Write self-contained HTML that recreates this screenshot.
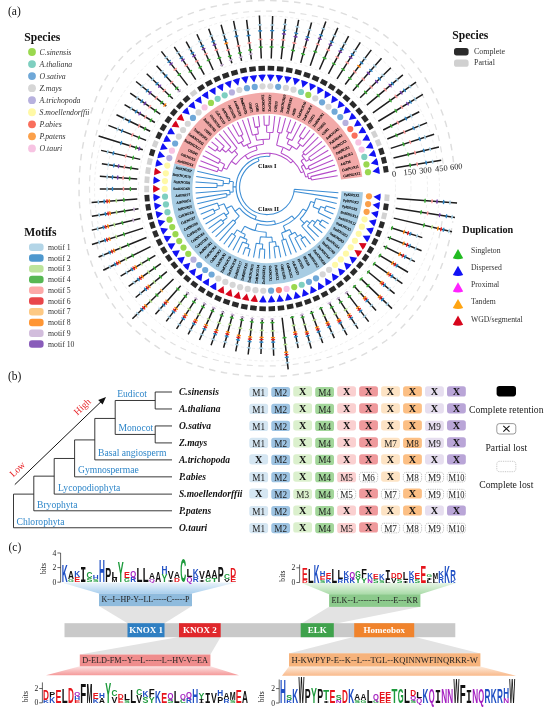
<!DOCTYPE html>
<html lang="en"><head><meta charset="utf-8"><title>KNOX gene family figure</title>
<style>html,body{margin:0;padding:0;background:#fff}svg{display:block}</style></head>
<body>
<svg width="550" height="713" viewBox="0 0 550 713">
<rect width="550" height="713" fill="#fff"/>
<g id="ring">
<circle cx="267" cy="188.5" r="128.5" fill="none" stroke="#e8e8e8" stroke-width="0.7" stroke-dasharray="3 2.5"/>
<circle cx="267" cy="188.5" r="144" fill="none" stroke="#e8e8e8" stroke-width="0.7" stroke-dasharray="3 2.5"/>
<circle cx="267" cy="188.5" r="160.5" fill="none" stroke="#e8e8e8" stroke-width="0.7" stroke-dasharray="3 2.5"/>
<circle cx="267" cy="188.5" r="172.5" fill="none" stroke="#e8e8e8" stroke-width="0.7" stroke-dasharray="3 2.5"/>
<path d="M443.15 163.74L441.93 154.5L440.3 145.29L438.24 136.15L435.74 127.08L432.77 118.13L429.33 109.33L425.39 100.7L420.95 92.3L416.02 84.16L410.58 76.32L404.66 68.83L398.28 61.73L391.45 55.05L384.21 48.81L376.6 43.05L368.66 37.78L360.43 33.01L351.94 28.74L343.25 24.97L334.4 21.69L325.41 18.88L316.31 16.53L307.14 14.61L297.92 13.12L288.67 12.03L279.39 11.34L270.1 11.02L260.8 11.08L251.52 11.53L242.24 12.35L233 13.57L223.79 15.2L214.65 17.26L205.58 19.76L196.63 22.73L187.83 26.17L179.2 30.11L170.77 34.51L162.49 39.24L154.39 44.37L146.54 49.93L139.04 55.99L131.97 62.59L125.46 69.73L119.56 77.39L114.33 85.52L109.78 94.03L105.87 102.83L102.53 111.81L99.68 120.9L97.2 130.03L95.01 139.18L93.11 148.36L91.62 157.58L90.53 166.83L89.84 176.11L89.52 185.4L89.58 194.7L90.03 203.98L90.85 213.26L92.07 222.5L93.7 231.71L95.76 240.85L98.26 249.92L101.23 258.87L104.67 267.67L108.61 276.3L113.05 284.7L117.98 292.84L123.42 300.68L129.34 308.17L135.72 315.27L142.55 321.95L149.79 328.19L157.4 333.95L165.34 339.22L173.57 343.99L182.06 348.26L190.75 352.03L199.6 355.31L208.59 358.12L217.69 360.47L226.86 362.39L236.08 363.88L245.33 364.97L254.61 365.66L263.9 365.98L273.2 365.92L282.48 365.47L291.76 364.65L301 363.43L310.21 361.8L319.35 359.74L328.42 357.24L337.37 354.27L346.17 350.83L354.8 346.89L363.2 342.45L371.34 337.52L379.18 332.08L386.67 326.16L393.77 319.78L400.45 312.95L406.69 305.71L412.45 298.1L417.72 290.16L422.49 281.93L426.76 273.44L430.53 264.75L433.81 255.9L436.62 246.91L438.97 237.81L440.89 228.64L442.38 219.42" fill="none" stroke="#e0e0e0" stroke-width="1.2" stroke-dasharray="6 5.5"/>
<path d="M453.58 162.28L452.3 152.48L450.59 142.73L448.43 133.03L445.8 123.42L442.67 113.93L439.04 104.59L434.89 95.44L430.2 86.52L424.98 77.88L419.23 69.57L412.96 61.62L406.19 54.09L398.95 47L391.27 40.4L383.2 34.3L374.77 28.72L366.04 23.68L357.04 19.17L347.82 15.19L338.42 11.73L328.89 8.77L319.25 6.3L309.53 4.29L299.76 2.72L289.95 1.58L280.12 0.85L270.28 0.52L260.44 0.59L250.6 1.05L240.78 1.92L230.98 3.2L221.23 4.91L211.53 7.07L201.92 9.7L192.43 12.83L183.09 16.46L173.94 20.61L165 25.26L156.21 30.28L147.64 35.72L139.33 41.63L131.39 48.08L123.93 55.09L117.04 62.67L110.8 70.8L105.27 79.41L100.45 88.42L96.3 97.74L92.75 107.25L89.72 116.87L87.09 126.55L84.79 136.25L82.79 145.97L81.22 155.74L80.08 165.55L79.35 175.38L79.02 185.22L79.09 195.06L79.55 204.9L80.42 214.72L81.7 224.52L83.41 234.27L85.57 243.97L88.2 253.58L91.33 263.07L94.96 272.41L99.11 281.56L103.8 290.48L109.02 299.12L114.77 307.43L121.04 315.38L127.81 322.91L135.05 330L142.73 336.6L150.8 342.7L159.23 348.28L167.96 353.32L176.96 357.83L186.18 361.81L195.58 365.27L205.11 368.23L214.75 370.7L224.47 372.71L234.24 374.28L244.05 375.42L253.88 376.15L263.72 376.48L273.56 376.41L283.4 375.95L293.22 375.08L303.02 373.8L312.77 372.09L322.47 369.93L332.08 367.3L341.57 364.17L350.91 360.54L360.06 356.39L368.98 351.7L377.62 346.48L385.93 340.73L393.88 334.46L401.41 327.69L408.5 320.45L415.1 312.77L421.2 304.7L426.78 296.27L431.82 287.54L436.33 278.54L440.31 269.32L443.77 259.92L446.73 250.39L449.2 240.75L451.21 231.03L452.78 221.26" fill="none" stroke="#dedede" stroke-width="1.45" stroke-dasharray="6.5 5.5"/>
<path d="M362.28 176.79A96 96 0 0 0 174.33 163.43L194.99 169.02A74.6 74.6 0 0 1 341.04 179.4Z" fill="#f2a9a8"/>
<path d="M174.33 163.43A96 96 0 1 0 362.93 192.19L341.54 191.36A74.6 74.6 0 1 1 194.99 169.02Z" fill="#a7cce3"/>
<path d="M311.42 180.01A45 45 0 0 0 310.74 176.63M311.42 180.01L337.68 175.75M310.74 176.63L336.6 170.38M308.66 178.81A42.5 42.5 0 0 0 307.43 174.09M308.66 178.81L311.11 178.31M307.43 174.09L335.11 165.11M309.54 169.7A46 46 0 0 0 308.08 166.5M309.54 169.7L333.22 159.97M308.08 166.5L330.94 154.98M310.66 160.84A51 51 0 0 0 308.52 157.58M310.66 160.84L328.29 150.19M308.52 157.58L325.28 145.61M305.36 155.13A50 50 0 0 0 302.8 152.29M305.36 155.13L321.93 141.28M302.8 152.29L318.26 137.21M306.28 161.38A47 47 0 0 0 301.88 155.7M306.28 161.38L309.62 159.19M301.88 155.7L304.11 153.69M306.11 169.34A43 43 0 0 0 301.02 160.9M306.11 169.34L308.84 168.09M301.02 160.9L304.19 158.46M305.69 177.06A40 40 0 0 0 301.24 166.52M305.69 177.06L308.11 176.43M301.24 166.52L303.81 164.97M303.07 139.25A60 60 0 0 0 299.3 136.63M303.07 139.25L310.04 129.98M299.3 136.63L305.54 126.86M302.67 146.65A54 54 0 0 0 297.79 142.84M302.67 146.65L314.29 133.44M297.79 142.84L301.21 137.91M290.81 133.22A59 59 0 0 0 286.61 131.55M290.81 133.22L295.89 121.69M286.61 131.55L290.8 119.67M292.03 140.48A53 53 0 0 0 286.51 137.92M292.03 140.48L300.81 124.09M286.51 137.92L288.72 132.34M296.58 149.4A48 48 0 0 0 287.2 143.66M296.58 149.4L300.28 144.67M287.2 143.66L289.31 139.12M281.52 133.11A56 56 0 0 0 277.34 132.16M281.52 133.11L285.56 118.05M277.34 132.16L280.22 116.83M289.45 150.52A43 43 0 0 0 276.55 145.27M289.45 150.52L292.06 146.26M276.55 145.27L279.44 132.6M301.08 172.8A37 37 0 0 0 280.95 152.93M301.08 172.8L303.85 171.63M280.95 152.93L283.21 147.37M269.03 125.23A62 62 0 0 0 264.28 125.26M269.03 125.23L269.34 115.64M264.28 125.26L263.86 115.67M272.99 132.53A55 55 0 0 0 266.69 132.2M272.99 132.53L274.8 116.03M266.69 132.2L266.65 125.2M259.67 126.64A61 61 0 0 0 255.07 127.38M259.67 126.64L258.4 116.12M255.07 127.38L252.99 116.98M258.47 133.88A54 54 0 0 0 252.42 135.21M258.47 133.88L257.36 126.97M252.42 135.21L247.66 118.26M269.49 139.26A48 48 0 0 0 256.71 140.32M269.49 139.26L269.85 132.27M256.71 140.32L255.42 134.46M243.01 134.4A58 58 0 0 0 239.04 136.39M243.01 134.4L237.38 122.01M239.04 136.39L232.48 124.47M243.69 140.72A52 52 0 0 0 238.52 143.69M243.69 140.72L241 135.35M238.52 143.69L227.79 127.29M250.88 143.05A47 47 0 0 0 243.56 146.46M250.88 143.05L242.45 119.94M243.56 146.46L241.06 142.13M263.47 144.34A43 43 0 0 0 248.84 148.22M263.47 144.34L263.06 139.36M248.84 148.22L247.15 144.6M218.22 147.34A63 63 0 0 0 215.31 151.18M218.22 147.34L211.56 141.9M215.31 151.18L208.25 146.27M224.3 146.48A59 59 0 0 0 219.92 151.64M224.3 146.48L215.18 137.79M219.92 151.64L216.73 149.23M230.88 147.06A54 54 0 0 0 225.85 152.24M230.88 147.06L219.11 133.97M225.85 152.24L222.04 149M237.11 148.37A49 49 0 0 0 231.86 153.05M237.11 148.37L223.32 130.47M231.86 153.05L228.28 149.56M220.46 159.81A54 54 0 0 0 218.51 163.44M220.46 159.81L205.3 150.88M218.51 163.44L202.7 155.7M218.69 167.96A52 52 0 0 0 217.36 171.71M218.69 167.96L200.48 160.71M217.36 171.71L198.65 165.87M224.73 164.45A48 48 0 0 0 221.76 171.16M224.73 164.45L219.45 161.61M221.76 171.16L217.99 169.82M237.73 154.35A44 44 0 0 0 226.77 169.37M237.73 154.35L234.4 150.62M226.77 169.37L223.12 167.75M257.14 149.99A38.5 38.5 0 0 0 235.89 164.52M257.14 149.99L255.98 145.64M235.89 164.52L231.45 161.27M290.88 163A34 34 0 0 0 247.8 159.14M290.88 163L292.99 160.87M247.8 159.14L245.26 155.42M269.76 156.42L270.04 153.34" fill="none" stroke="#b44cc9" stroke-width="1.05"/>
<path d="M217.13 183.56A50 50 0 0 0 217 187.38M217.13 183.56L195.59 181.99M217 187.38L195.4 187.46M223.49 180.65A44 44 0 0 0 223.03 185.68M223.49 180.65L196.2 176.54M223.03 185.68L217.03 185.47M229.97 178.69A38 38 0 0 0 229.16 183.71M229.97 178.69L197.22 171.16M229.16 183.71L223.19 183.16M226.5 193.6A41 41 0 0 0 227.11 196.68M226.5 193.6L196.28 198.38M227.11 196.68L197.34 203.75M229.62 190.2A37.5 37.5 0 0 0 230.21 194.47M229.62 190.2L195.63 192.94M230.21 194.47L226.78 195.14M233.43 181.82A34 34 0 0 0 233.32 191.86M233.43 181.82L229.48 181.19M233.32 191.86L229.85 192.34M213.27 209.05A58 58 0 0 0 215.1 213.1M213.27 209.05L200.68 214.18M215.1 213.1L202.93 219.17M217.48 203.05A52 52 0 0 0 219.62 208.62M217.48 203.05L198.81 209.03M219.62 208.62L214.15 211.09M221.29 219.55A56 56 0 0 0 223.9 222.95M221.29 219.55L208.56 228.56M223.9 222.95L211.89 232.91M224.1 212.88A50 50 0 0 0 227.32 217.63M224.1 212.88L205.57 223.98M227.32 217.63L222.56 221.28M224.07 203.71A46 46 0 0 0 228.95 213.05M224.07 203.71L218.47 205.87M228.95 213.05L225.64 215.3M233.23 219.88A47 47 0 0 0 235.82 222.37M233.23 219.88L215.55 236.99M235.82 222.37L219.5 240.78M231.56 205.74A40 40 0 0 0 239.34 216.1M231.56 205.74L226.24 208.52M239.34 216.1L234.5 221.15M231.96 233.42A58 58 0 0 0 235.59 235.96M231.96 233.42L223.74 244.25M235.59 235.96L228.23 247.39M245.5 247.48A64 64 0 0 0 250.17 248.95M245.5 247.48L242.95 254.64M250.17 248.95L248.17 256.28M242.58 242.01A60 60 0 0 0 249.02 244.44M242.58 242.01L237.86 252.6M249.02 244.44L247.82 248.26M240.36 236.46A56 56 0 0 0 247.18 239.58M240.36 236.46L232.94 250.18M247.18 239.58L245.77 243.32M237.19 229.81A52 52 0 0 0 245.38 234.49M237.19 229.81L233.75 234.72M245.38 234.49L243.72 238.13M260.01 248.8A62 62 0 0 0 264.74 249.16M260.01 248.8L258.92 258.34M264.74 249.16L264.39 258.75M256.26 243.18A57 57 0 0 0 262.74 244.04M256.26 243.18L253.51 257.52M262.74 244.04L262.37 249.03M273.98 246.79A60 60 0 0 0 278.51 246.08M273.98 246.79L275.33 258.31M278.51 246.08L280.74 257.47M269.2 242.16A55 55 0 0 0 275.48 241.54M269.2 242.16L269.87 258.74M275.48 241.54L276.25 246.48M260.41 236.76A50 50 0 0 0 271.86 236.96M260.41 236.76L259.49 243.7M271.86 236.96L272.35 241.94M244.66 226.26A45 45 0 0 0 266.22 232.19M244.66 226.26L241.18 232.34M266.22 232.19L266.13 237.19M281.65 240.21A55 55 0 0 0 285.66 238.94M281.65 240.21L286.07 256.21M285.66 238.94L291.29 254.55M300.76 239.2A62 62 0 0 0 304.63 236.47M300.76 239.2L305.98 247.26M304.63 236.47L310.46 244.1M294.77 238.12A58 58 0 0 0 300.42 234.61M294.77 238.12L301.28 250.06M300.42 234.61L302.72 237.88M288.74 235.54A53 53 0 0 0 295 232.2M288.74 235.54L296.37 252.5M295 232.2L297.64 236.44M281.55 232.94A48 48 0 0 0 289.58 229.56M281.55 232.94L283.67 239.61M289.58 229.56L291.93 233.97M319.37 223.99A64 64 0 0 0 322.03 219.88M319.37 223.99L325.59 228.36M322.03 219.88L328.56 223.76M313.32 225.34A60 60 0 0 0 317.38 219.79M313.32 225.34L322.27 232.72M317.38 219.79L320.74 221.96M307.38 226A56 56 0 0 0 312.2 220.26M307.38 226L318.63 236.81M312.2 220.26L315.43 222.62M301.63 225.99A52 52 0 0 0 306.82 220.64M301.63 225.99L314.68 240.61M306.82 220.64L309.89 223.21M324.51 210.36A62 62 0 0 0 326.11 205.89M324.51 210.36L333.42 213.94M326.11 205.89L335.27 208.79M318.09 212.47A57 57 0 0 0 320.65 206.45M318.09 212.47L331.18 218.94M320.65 206.45L325.36 208.14M313.02 206.76A50 50 0 0 0 315.69 198.59M313.02 206.76L319.46 209.5M315.69 198.59L336.72 203.5M300.02 219.23A46 46 0 0 0 310.72 201.49M300.02 219.23L304.32 223.41M310.72 201.49L314.53 202.73M283.31 225.9A42 42 0 0 0 302.96 208.9M283.31 225.9L285.64 231.43M302.96 208.9L306.38 210.97M256.92 223.84A38 38 0 0 0 291.86 215.94M256.92 223.84L255.06 230.59M291.86 215.94L294.48 218.96M239.42 207.93A34.5 34.5 0 0 0 274.61 220.85M239.42 207.93L235.03 211.24M274.61 220.85L275.38 224.26M236 186.87A31 31 0 0 0 256.32 216.3M236 186.87L233 186.84M256.32 216.3L255.11 219.59M269.76 156.42A30.9 30.9 0 0 0 241.57 204.75M241.57 204.75L241.49 204.81M258.99 161L257.97 157.65M258.99 161A27.4 27.4 0 1 0 294.32 189.3M294.32 189.3L338.39 192.68M294.38 191.43L337.76 198.13" fill="none" stroke="#3c8dd4" stroke-width="1.05"/>
<text x="267.3" y="167.6" font-family='"Liberation Serif", serif' font-weight="bold" font-size="6.3" text-anchor="middle">Class I</text>
<text x="268.5" y="211" font-family='"Liberation Serif", serif' font-weight="bold" font-size="6.3" text-anchor="middle">Class II</text>
<g font-family='"Liberation Serif", serif' font-size="3.5" fill="#000" stroke="#000" stroke-width="0.14"><text transform="translate(343.21 176.16) rotate(-9.2)" y="1.15">CsKNOX12</text><text transform="translate(342.04 170.37) rotate(-13.58)" y="1.15">CsKNOX11</text><text transform="translate(340.43 164.68) rotate(-17.97)" y="1.15">AtSTM</text><text transform="translate(338.4 159.14) rotate(-22.35)" y="1.15">OtKNOX2</text><text transform="translate(335.94 153.76) rotate(-26.74)" y="1.15">OtKNOX1</text><text transform="translate(333.09 148.6) rotate(-31.12)" y="1.15">PaKNOX3</text><text transform="translate(329.84 143.66) rotate(-35.51)" y="1.15">PaKNOX1</text><text transform="translate(326.23 138.99) rotate(-39.89)" y="1.15">AtrKNOX5</text><text transform="translate(322.27 134.6) rotate(-44.28)" y="1.15">OSH1</text><text transform="translate(317.99 130.53) rotate(-48.66)" y="1.15">OSH43</text><text transform="translate(313.41 126.81) rotate(-53.05)" y="1.15">ZmKNOX1</text><text transform="translate(308.55 123.44) rotate(-57.43)" y="1.15">OSH15</text><text transform="translate(303.46 120.45) rotate(-61.82)" y="1.15">ZmKNOX4</text><text transform="translate(298.15 117.86) rotate(-66.2)" y="1.15">CsKNOX10</text><text transform="translate(292.66 115.69) rotate(-70.59)" y="1.15">AtBP</text><text transform="translate(287.02 113.94) rotate(-74.97)" y="1.15">ZmKNOX8</text><text transform="translate(281.26 112.63) rotate(-79.36)" y="1.15">ZmKNOX10</text><text transform="translate(275.41 111.76) rotate(-83.74)" y="1.15">OSH10</text><text transform="translate(269.52 111.34) rotate(-88.13)" y="1.15">ZmKNOX7</text><text transform="translate(263.62 111.37) rotate(87.49)" y="1.15" text-anchor="end">ZmKNOX6</text><text transform="translate(257.73 111.86) rotate(83.1)" y="1.15" text-anchor="end">OSH6</text><text transform="translate(251.9 112.79) rotate(78.72)" y="1.15" text-anchor="end">OSH71</text><text transform="translate(246.15 114.17) rotate(74.33)" y="1.15" text-anchor="end">ZmKNOX5</text><text transform="translate(240.53 115.98) rotate(69.95)" y="1.15" text-anchor="end">AtrKNOX3</text><text transform="translate(235.06 118.22) rotate(65.56)" y="1.15" text-anchor="end">AtKNAT6</text><text transform="translate(229.78 120.86) rotate(61.18)" y="1.15" text-anchor="end">AtKNAT2</text><text transform="translate(224.72 123.91) rotate(56.79)" y="1.15" text-anchor="end">CsKNOX9</text><text transform="translate(219.91 127.33) rotate(52.41)" y="1.15" text-anchor="end">OtKNOX4</text><text transform="translate(215.37 131.11) rotate(48.02)" y="1.15" text-anchor="end">ZmKNOX9</text><text transform="translate(211.13 135.22) rotate(43.64)" y="1.15" text-anchor="end">OSH3</text><text transform="translate(207.22 139.65) rotate(39.25)" y="1.15" text-anchor="end">ZmKNOX3</text><text transform="translate(203.66 144.37) rotate(34.87)" y="1.15" text-anchor="end">ZmKNOX11</text><text transform="translate(200.47 149.34) rotate(30.48)" y="1.15" text-anchor="end">ZmKNOX12</text><text transform="translate(197.67 154.54) rotate(26.1)" y="1.15" text-anchor="end">OSH45</text><text transform="translate(195.28 159.94) rotate(21.71)" y="1.15" text-anchor="end">OtKNOX3</text><text transform="translate(193.3 165.51) rotate(17.33)" y="1.15" text-anchor="end">AtrKNOX2</text><text transform="translate(191.76 171.21) rotate(12.94)" y="1.15" text-anchor="end">SmKNOX7</text><text transform="translate(190.66 177.01) rotate(8.56)" y="1.15" text-anchor="end">SmKNOX10</text><text transform="translate(190 182.88) rotate(4.17)" y="1.15" text-anchor="end">SmKNOX9</text><text transform="translate(189.8 188.78) rotate(-0.21)" y="1.15" text-anchor="end">SmKNOX8</text><text transform="translate(190.05 194.69) rotate(-4.6)" y="1.15" text-anchor="end">AtKNAT7</text><text transform="translate(190.75 200.55) rotate(-8.98)" y="1.15" text-anchor="end">AtKNAT4</text><text transform="translate(191.89 206.35) rotate(-13.37)" y="1.15" text-anchor="end">AtKNAT5</text><text transform="translate(193.48 212.04) rotate(-17.75)" y="1.15" text-anchor="end">CsKNOX8</text><text transform="translate(195.49 217.59) rotate(-22.14)" y="1.15" text-anchor="end">CsKNOX7</text><text transform="translate(197.92 222.97) rotate(-26.52)" y="1.15" text-anchor="end">CsKNOX6</text><text transform="translate(200.76 228.15) rotate(-30.91)" y="1.15" text-anchor="end">CsKNOX5</text><text transform="translate(203.99 233.1) rotate(-35.29)" y="1.15" text-anchor="end">CsKNOX4</text><text transform="translate(207.58 237.79) rotate(-39.68)" y="1.15" text-anchor="end">CsKNOX3</text><text transform="translate(211.52 242.19) rotate(-44.06)" y="1.15" text-anchor="end">AtrKNOX1</text><text transform="translate(215.79 246.27) rotate(-48.44)" y="1.15" text-anchor="end">OsKNOX4</text><text transform="translate(220.36 250.02) rotate(-52.83)" y="1.15" text-anchor="end">OsKNOX3</text><text transform="translate(225.2 253.4) rotate(-57.21)" y="1.15" text-anchor="end">OsKNOX2</text><text transform="translate(230.28 256.41) rotate(-61.6)" y="1.15" text-anchor="end">ZmKNOX19</text><text transform="translate(235.58 259.02) rotate(-65.98)" y="1.15" text-anchor="end">ZmKNOX18</text><text transform="translate(241.06 261.21) rotate(-70.37)" y="1.15" text-anchor="end">ZmKNOX17</text><text transform="translate(246.7 262.98) rotate(-74.75)" y="1.15" text-anchor="end">ZmKNOX16</text><text transform="translate(252.45 264.32) rotate(-79.14)" y="1.15" text-anchor="end">ZmKNOX15</text><text transform="translate(258.29 265.21) rotate(-83.52)" y="1.15" text-anchor="end">ZmKNOX14</text><text transform="translate(264.18 265.65) rotate(-87.91)" y="1.15" text-anchor="end">ZmKNOX13</text><text transform="translate(270.09 265.64) rotate(-272.29)" y="1.15">OsKNOX1</text><text transform="translate(275.98 265.18) rotate(-276.68)" y="1.15">PaKNOX2</text><text transform="translate(281.81 264.27) rotate(-281.06)" y="1.15">OtKNOX5</text><text transform="translate(287.56 262.91) rotate(-285.45)" y="1.15">CsKNOX2</text><text transform="translate(293.19 261.12) rotate(-289.83)" y="1.15">AtKNAT3</text><text transform="translate(298.67 258.91) rotate(-294.22)" y="1.15">HOS59</text><text transform="translate(303.96 256.28) rotate(-298.6)" y="1.15">HOS58</text><text transform="translate(309.03 253.25) rotate(-302.99)" y="1.15">ZmKNOX2</text><text transform="translate(313.86 249.85) rotate(-307.37)" y="1.15">ZmKNOX20</text><text transform="translate(318.41 246.09) rotate(-311.76)" y="1.15">SmKNOX6</text><text transform="translate(322.67 241.99) rotate(-316.14)" y="1.15">SmKNOX5</text><text transform="translate(326.59 237.58) rotate(-320.53)" y="1.15">SmKNOX4</text><text transform="translate(330.17 232.88) rotate(-324.91)" y="1.15">SmKNOX3</text><text transform="translate(333.38 227.92) rotate(-329.3)" y="1.15">SmKNOX2</text><text transform="translate(336.2 222.73) rotate(-333.68)" y="1.15">SmKNOX1</text><text transform="translate(338.61 217.34) rotate(-338.07)" y="1.15">SmKNOX12</text><text transform="translate(340.61 211.78) rotate(-342.45)" y="1.15">SmKNOX11</text><text transform="translate(342.17 206.08) rotate(-346.84)" y="1.15">PpKNOX3</text><text transform="translate(343.3 200.28) rotate(-351.22)" y="1.15">PpKNOX2</text><text transform="translate(343.97 194.41) rotate(-355.61)" y="1.15">PpKNOX1</text></g>
<circle cx="367.98" cy="172.14" r="3.1" fill="#9ad84f"/><circle cx="366.44" cy="164.47" r="3.1" fill="#9ad84f"/><circle cx="364.31" cy="156.94" r="3.1" fill="#7ecfc0"/><circle cx="361.61" cy="149.59" r="3.1" fill="#f7c3e2"/><circle cx="358.36" cy="142.47" r="3.1" fill="#f7c3e2"/><circle cx="354.57" cy="135.62" r="3.1" fill="#f96f5d"/><circle cx="350.27" cy="129.08" r="3.1" fill="#f96f5d"/><circle cx="345.49" cy="122.89" r="3.1" fill="#b7b1de"/><circle cx="340.24" cy="117.08" r="3.1" fill="#6fa8d8"/><circle cx="334.57" cy="111.69" r="3.1" fill="#6fa8d8"/><circle cx="328.5" cy="106.75" r="3.1" fill="#d6d6d6"/><circle cx="322.07" cy="102.28" r="3.1" fill="#6fa8d8"/><circle cx="315.31" cy="98.33" r="3.1" fill="#d6d6d6"/><circle cx="308.28" cy="94.9" r="3.1" fill="#9ad84f"/><circle cx="301" cy="92.02" r="3.1" fill="#7ecfc0"/><circle cx="293.52" cy="89.7" r="3.1" fill="#d6d6d6"/><circle cx="285.89" cy="87.96" r="3.1" fill="#d6d6d6"/><circle cx="278.15" cy="86.81" r="3.1" fill="#6fa8d8"/><circle cx="270.34" cy="86.25" r="3.1" fill="#d6d6d6"/><circle cx="262.51" cy="86.3" r="3.1" fill="#d6d6d6"/><circle cx="254.71" cy="86.94" r="3.1" fill="#6fa8d8"/><circle cx="246.98" cy="88.18" r="3.1" fill="#6fa8d8"/><circle cx="239.37" cy="90" r="3.1" fill="#d6d6d6"/><circle cx="231.92" cy="92.4" r="3.1" fill="#b7b1de"/><circle cx="224.68" cy="95.36" r="3.1" fill="#7ecfc0"/><circle cx="217.68" cy="98.87" r="3.1" fill="#7ecfc0"/><circle cx="210.97" cy="102.91" r="3.1" fill="#9ad84f"/><circle cx="204.59" cy="107.44" r="3.1" fill="#f7c3e2"/><circle cx="198.58" cy="112.45" r="3.1" fill="#d6d6d6"/><circle cx="192.96" cy="117.9" r="3.1" fill="#6fa8d8"/><circle cx="187.78" cy="123.77" r="3.1" fill="#d6d6d6"/><circle cx="183.07" cy="130.02" r="3.1" fill="#d6d6d6"/><circle cx="178.84" cy="136.6" r="3.1" fill="#d6d6d6"/><circle cx="175.13" cy="143.5" r="3.1" fill="#6fa8d8"/><circle cx="171.96" cy="150.65" r="3.1" fill="#f7c3e2"/><circle cx="169.34" cy="158.03" r="3.1" fill="#b7b1de"/><circle cx="167.3" cy="165.59" r="3.1" fill="#fff9a6"/><circle cx="165.84" cy="173.28" r="3.1" fill="#fff9a6"/><circle cx="164.97" cy="181.05" r="3.1" fill="#fff9a6"/><circle cx="164.7" cy="188.88" r="3.1" fill="#fff9a6"/><circle cx="165.03" cy="196.7" r="3.1" fill="#7ecfc0"/><circle cx="165.95" cy="204.47" r="3.1" fill="#7ecfc0"/><circle cx="167.47" cy="212.15" r="3.1" fill="#7ecfc0"/><circle cx="169.57" cy="219.69" r="3.1" fill="#9ad84f"/><circle cx="172.24" cy="227.05" r="3.1" fill="#9ad84f"/><circle cx="175.46" cy="234.18" r="3.1" fill="#9ad84f"/><circle cx="179.22" cy="241.04" r="3.1" fill="#9ad84f"/><circle cx="183.5" cy="247.6" r="3.1" fill="#9ad84f"/><circle cx="188.26" cy="253.81" r="3.1" fill="#9ad84f"/><circle cx="193.49" cy="259.64" r="3.1" fill="#b7b1de"/><circle cx="199.14" cy="265.05" r="3.1" fill="#6fa8d8"/><circle cx="205.19" cy="270.02" r="3.1" fill="#6fa8d8"/><circle cx="211.61" cy="274.5" r="3.1" fill="#6fa8d8"/><circle cx="218.34" cy="278.49" r="3.1" fill="#d6d6d6"/><circle cx="225.37" cy="281.94" r="3.1" fill="#d6d6d6"/><circle cx="232.63" cy="284.85" r="3.1" fill="#d6d6d6"/><circle cx="240.1" cy="287.2" r="3.1" fill="#d6d6d6"/><circle cx="247.72" cy="288.97" r="3.1" fill="#d6d6d6"/><circle cx="255.46" cy="290.15" r="3.1" fill="#d6d6d6"/><circle cx="263.27" cy="290.73" r="3.1" fill="#d6d6d6"/><circle cx="271.09" cy="290.72" r="3.1" fill="#6fa8d8"/><circle cx="278.9" cy="290.11" r="3.1" fill="#f96f5d"/><circle cx="286.63" cy="288.9" r="3.1" fill="#f7c3e2"/><circle cx="294.25" cy="287.1" r="3.1" fill="#9ad84f"/><circle cx="301.71" cy="284.73" r="3.1" fill="#7ecfc0"/><circle cx="308.96" cy="281.8" r="3.1" fill="#6fa8d8"/><circle cx="315.98" cy="278.31" r="3.1" fill="#6fa8d8"/><circle cx="322.7" cy="274.31" r="3.1" fill="#d6d6d6"/><circle cx="329.1" cy="269.8" r="3.1" fill="#d6d6d6"/><circle cx="335.13" cy="264.81" r="3.1" fill="#fff9a6"/><circle cx="340.77" cy="259.38" r="3.1" fill="#fff9a6"/><circle cx="345.97" cy="253.53" r="3.1" fill="#fff9a6"/><circle cx="350.71" cy="247.3" r="3.1" fill="#fff9a6"/><circle cx="354.96" cy="240.73" r="3.1" fill="#fff9a6"/><circle cx="358.7" cy="233.85" r="3.1" fill="#fff9a6"/><circle cx="361.9" cy="226.71" r="3.1" fill="#fff9a6"/><circle cx="364.54" cy="219.34" r="3.1" fill="#fff9a6"/><circle cx="366.61" cy="211.8" r="3.1" fill="#fba04a"/><circle cx="368.1" cy="204.11" r="3.1" fill="#fba04a"/><circle cx="369" cy="196.34" r="3.1" fill="#fba04a"/>
<path transform="translate(376.18 170.82) rotate(-9.2)" d="M-3.8 0L3 -3.8Q3.8 0 3 3.8Z" fill="#1212f5"/><path transform="translate(374.51 162.52) rotate(-13.58)" d="M-3.8 0L3 -3.8Q3.8 0 3 3.8Z" fill="#1212f5"/><path transform="translate(372.2 154.38) rotate(-17.97)" d="M-3.8 0L3 -3.8Q3.8 0 3 3.8Z" fill="#1212f5"/><path transform="translate(369.29 146.43) rotate(-22.35)" d="M-3.8 0L3 -3.8Q3.8 0 3 3.8Z" fill="#1212f5"/><path transform="translate(365.77 138.74) rotate(-26.74)" d="M-3.8 0L3 -3.8Q3.8 0 3 3.8Z" fill="#1212f5"/><path transform="translate(361.68 131.33) rotate(-31.12)" d="M-3.8 0L3 -3.8Q3.8 0 3 3.8Z" fill="#1212f5"/><path transform="translate(357.03 124.26) rotate(-35.51)" d="M-3.8 0L3 -3.8Q3.8 0 3 3.8Z" fill="#1212f5"/><path transform="translate(351.86 117.56) rotate(-39.89)" d="M-3.8 0L3 -3.8Q3.8 0 3 3.8Z" fill="#1212f5"/><path transform="translate(346.18 111.28) rotate(-44.28)" d="M-3.8 0L3 -3.8Q3.8 0 3 3.8Z" fill="#1212f5"/><path transform="translate(340.05 105.46) rotate(-48.66)" d="M-3.8 0L3 -3.8Q3.8 0 3 3.8Z" fill="#1212f5"/><path transform="translate(333.49 100.11) rotate(-53.05)" d="M-3.8 0L3 -3.8Q3.8 0 3 3.8Z" fill="#1212f5"/><path transform="translate(326.53 95.29) rotate(-57.43)" d="M-3.8 0L3 -3.8Q3.8 0 3 3.8Z" fill="#1212f5"/><path transform="translate(319.23 91.01) rotate(-61.82)" d="M-3.8 0L3 -3.8Q3.8 0 3 3.8Z" fill="#1212f5"/><path transform="translate(311.63 87.3) rotate(-66.2)" d="M-3.8 0L3 -3.8Q3.8 0 3 3.8Z" fill="#1212f5"/><path transform="translate(303.76 84.19) rotate(-70.59)" d="M-3.8 0L3 -3.8Q3.8 0 3 3.8Z" fill="#1212f5"/><path transform="translate(295.67 81.68) rotate(-74.97)" d="M-3.8 0L3 -3.8Q3.8 0 3 3.8Z" fill="#1212f5"/><path transform="translate(287.42 79.8) rotate(-79.36)" d="M-3.8 0L3 -3.8Q3.8 0 3 3.8Z" fill="#1212f5"/><path transform="translate(279.05 78.56) rotate(-83.74)" d="M-3.8 0L3 -3.8Q3.8 0 3 3.8Z" fill="#1212f5"/><path transform="translate(270.61 77.96) rotate(-88.13)" d="M-3.8 0L3 -3.8Q3.8 0 3 3.8Z" fill="#1212f5"/><path transform="translate(262.15 78.01) rotate(-92.51)" d="M-3.8 0L3 -3.8Q3.8 0 3 3.8Z" fill="#1212f5"/><path transform="translate(253.72 78.7) rotate(-96.9)" d="M-3.8 0L3 -3.8Q3.8 0 3 3.8Z" fill="#1212f5"/><path transform="translate(245.36 80.04) rotate(-101.28)" d="M-3.8 0L3 -3.8Q3.8 0 3 3.8Z" fill="#1212f5"/><path transform="translate(237.13 82.01) rotate(-105.67)" d="M-3.8 0L3 -3.8Q3.8 0 3 3.8Z" fill="#1212f5"/><path transform="translate(229.08 84.6) rotate(-110.05)" d="M-3.8 0L3 -3.8Q3.8 0 3 3.8Z" fill="#1212f5"/><path transform="translate(221.24 87.81) rotate(-114.44)" d="M-3.8 0L3 -3.8Q3.8 0 3 3.8Z" fill="#1212f5"/><path transform="translate(213.68 91.6) rotate(-118.82)" d="M-3.8 0L3 -3.8Q3.8 0 3 3.8Z" fill="#1212f5"/><path transform="translate(206.43 95.96) rotate(-123.21)" d="M-3.8 0L3 -3.8Q3.8 0 3 3.8Z" fill="#1212f5"/><path transform="translate(199.53 100.86) rotate(-127.59)" d="M-3.8 0L3 -3.8Q3.8 0 3 3.8Z" fill="#1212f5"/><path transform="translate(193.03 106.28) rotate(-131.98)" d="M-3.8 0L3 -3.8Q3.8 0 3 3.8Z" fill="#1212f5"/><path transform="translate(186.96 112.17) rotate(-136.36)" d="M-3.8 0L3 -3.8Q3.8 0 3 3.8Z" fill="#1212f5"/><path transform="translate(181.36 118.52) rotate(-140.75)" d="M-3.8 0L3 -3.8Q3.8 0 3 3.8Z" fill="#d7061c"/><path transform="translate(176.26 125.27) rotate(-145.13)" d="M-3.8 0L3 -3.8Q3.8 0 3 3.8Z" fill="#d7061c"/><path transform="translate(171.69 132.39) rotate(-149.52)" d="M-3.8 0L3 -3.8Q3.8 0 3 3.8Z" fill="#1212f5"/><path transform="translate(167.68 139.85) rotate(-153.9)" d="M-3.8 0L3 -3.8Q3.8 0 3 3.8Z" fill="#1212f5"/><path transform="translate(164.25 147.58) rotate(-158.29)" d="M-3.8 0L3 -3.8Q3.8 0 3 3.8Z" fill="#1212f5"/><path transform="translate(161.42 155.56) rotate(-162.67)" d="M-3.8 0L3 -3.8Q3.8 0 3 3.8Z" fill="#1212f5"/><path transform="translate(159.21 163.73) rotate(-167.06)" d="M-3.8 0L3 -3.8Q3.8 0 3 3.8Z" fill="#1212f5"/><path transform="translate(157.63 172.04) rotate(-171.44)" d="M-3.8 0L3 -3.8Q3.8 0 3 3.8Z" fill="#d7061c"/><path transform="translate(156.69 180.45) rotate(-175.83)" d="M-3.8 0L3 -3.8Q3.8 0 3 3.8Z" fill="#1212f5"/><path transform="translate(156.4 188.91) rotate(-180.21)" d="M-3.8 0L3 -3.8Q3.8 0 3 3.8Z" fill="#d7061c"/><path transform="translate(156.76 197.36) rotate(-184.6)" d="M-3.8 0L3 -3.8Q3.8 0 3 3.8Z" fill="#1212f5"/><path transform="translate(157.76 205.76) rotate(-188.98)" d="M-3.8 0L3 -3.8Q3.8 0 3 3.8Z" fill="#1212f5"/><path transform="translate(159.4 214.07) rotate(-193.37)" d="M-3.8 0L3 -3.8Q3.8 0 3 3.8Z" fill="#1212f5"/><path transform="translate(161.67 222.22) rotate(-197.75)" d="M-3.8 0L3 -3.8Q3.8 0 3 3.8Z" fill="#1212f5"/><path transform="translate(164.55 230.17) rotate(-202.14)" d="M-3.8 0L3 -3.8Q3.8 0 3 3.8Z" fill="#1212f5"/><path transform="translate(168.04 237.88) rotate(-206.52)" d="M-3.8 0L3 -3.8Q3.8 0 3 3.8Z" fill="#1212f5"/><path transform="translate(172.1 245.31) rotate(-210.91)" d="M-3.8 0L3 -3.8Q3.8 0 3 3.8Z" fill="#1212f5"/><path transform="translate(176.72 252.4) rotate(-215.29)" d="M-3.8 0L3 -3.8Q3.8 0 3 3.8Z" fill="#1212f5"/><path transform="translate(181.87 259.11) rotate(-219.68)" d="M-3.8 0L3 -3.8Q3.8 0 3 3.8Z" fill="#1212f5"/><path transform="translate(187.52 265.41) rotate(-224.06)" d="M-3.8 0L3 -3.8Q3.8 0 3 3.8Z" fill="#1212f5"/><path transform="translate(193.63 271.26) rotate(-228.44)" d="M-3.8 0L3 -3.8Q3.8 0 3 3.8Z" fill="#1212f5"/><path transform="translate(200.18 276.63) rotate(-232.83)" d="M-3.8 0L3 -3.8Q3.8 0 3 3.8Z" fill="#1212f5"/><path transform="translate(207.11 281.48) rotate(-237.21)" d="M-3.8 0L3 -3.8Q3.8 0 3 3.8Z" fill="#1212f5"/><path transform="translate(214.4 285.79) rotate(-241.6)" d="M-3.8 0L3 -3.8Q3.8 0 3 3.8Z" fill="#1212f5"/><path transform="translate(221.99 289.53) rotate(-245.98)" d="M-3.8 0L3 -3.8Q3.8 0 3 3.8Z" fill="#d7061c"/><path transform="translate(229.84 292.67) rotate(-250.37)" d="M-3.8 0L3 -3.8Q3.8 0 3 3.8Z" fill="#d7061c"/><path transform="translate(237.92 295.21) rotate(-254.75)" d="M-3.8 0L3 -3.8Q3.8 0 3 3.8Z" fill="#d7061c"/><path transform="translate(246.16 297.12) rotate(-259.14)" d="M-3.8 0L3 -3.8Q3.8 0 3 3.8Z" fill="#d7061c"/><path transform="translate(254.53 298.39) rotate(-263.52)" d="M-3.8 0L3 -3.8Q3.8 0 3 3.8Z" fill="#d7061c"/><path transform="translate(262.96 299.03) rotate(-267.91)" d="M-3.8 0L3 -3.8Q3.8 0 3 3.8Z" fill="#1212f5"/><path transform="translate(271.43 299.01) rotate(-272.29)" d="M-3.8 0L3 -3.8Q3.8 0 3 3.8Z" fill="#1212f5"/><path transform="translate(279.86 298.35) rotate(-276.68)" d="M-3.8 0L3 -3.8Q3.8 0 3 3.8Z" fill="#1212f5"/><path transform="translate(288.22 297.04) rotate(-281.06)" d="M-3.8 0L3 -3.8Q3.8 0 3 3.8Z" fill="#1212f5"/><path transform="translate(296.46 295.1) rotate(-285.45)" d="M-3.8 0L3 -3.8Q3.8 0 3 3.8Z" fill="#1212f5"/><path transform="translate(304.53 292.54) rotate(-289.83)" d="M-3.8 0L3 -3.8Q3.8 0 3 3.8Z" fill="#1212f5"/><path transform="translate(312.37 289.37) rotate(-294.22)" d="M-3.8 0L3 -3.8Q3.8 0 3 3.8Z" fill="#1212f5"/><path transform="translate(319.95 285.6) rotate(-298.6)" d="M-3.8 0L3 -3.8Q3.8 0 3 3.8Z" fill="#1212f5"/><path transform="translate(327.22 281.27) rotate(-302.99)" d="M-3.8 0L3 -3.8Q3.8 0 3 3.8Z" fill="#1212f5"/><path transform="translate(334.13 276.39) rotate(-307.37)" d="M-3.8 0L3 -3.8Q3.8 0 3 3.8Z" fill="#1212f5"/><path transform="translate(340.66 271) rotate(-311.76)" d="M-3.8 0L3 -3.8Q3.8 0 3 3.8Z" fill="#1212f5"/><path transform="translate(346.75 265.13) rotate(-316.14)" d="M-3.8 0L3 -3.8Q3.8 0 3 3.8Z" fill="#1212f5"/><path transform="translate(352.38 258.81) rotate(-320.53)" d="M-3.8 0L3 -3.8Q3.8 0 3 3.8Z" fill="#1212f5"/><path transform="translate(357.5 252.08) rotate(-324.91)" d="M-3.8 0L3 -3.8Q3.8 0 3 3.8Z" fill="#d7061c"/><path transform="translate(362.1 244.97) rotate(-329.3)" d="M-3.8 0L3 -3.8Q3.8 0 3 3.8Z" fill="#d7061c"/><path transform="translate(366.14 237.53) rotate(-333.68)" d="M-3.8 0L3 -3.8Q3.8 0 3 3.8Z" fill="#1212f5"/><path transform="translate(369.6 229.81) rotate(-338.07)" d="M-3.8 0L3 -3.8Q3.8 0 3 3.8Z" fill="#1212f5"/><path transform="translate(372.45 221.85) rotate(-342.45)" d="M-3.8 0L3 -3.8Q3.8 0 3 3.8Z" fill="#1212f5"/><path transform="translate(374.69 213.69) rotate(-346.84)" d="M-3.8 0L3 -3.8Q3.8 0 3 3.8Z" fill="#1212f5"/><path transform="translate(376.3 205.38) rotate(-351.22)" d="M-3.8 0L3 -3.8Q3.8 0 3 3.8Z" fill="#1212f5"/><path transform="translate(377.28 196.97) rotate(-355.61)" d="M-3.8 0L3 -3.8Q3.8 0 3 3.8Z" fill="#1212f5"/>
<rect transform="translate(385.75 169.27) rotate(-9.2)" x="-2.45" y="-3.25" width="4.9" height="6.5" fill="#2a2a2a"/><rect transform="translate(383.93 160.24) rotate(-13.58)" x="-2.45" y="-3.25" width="4.9" height="6.5" fill="#2a2a2a"/><rect transform="translate(381.43 151.39) rotate(-17.97)" x="-2.45" y="-3.25" width="4.9" height="6.5" fill="#2a2a2a"/><rect transform="translate(378.26 142.75) rotate(-22.35)" x="-2.45" y="-3.25" width="4.9" height="6.5" fill="#d2d2d2"/><rect transform="translate(374.44 134.37) rotate(-26.74)" x="-2.45" y="-3.25" width="4.9" height="6.5" fill="#d2d2d2"/><rect transform="translate(369.98 126.32) rotate(-31.12)" x="-2.45" y="-3.25" width="4.9" height="6.5" fill="#2a2a2a"/><rect transform="translate(364.93 118.63) rotate(-35.51)" x="-2.45" y="-3.25" width="4.9" height="6.5" fill="#2a2a2a"/><rect transform="translate(359.3 111.34) rotate(-39.89)" x="-2.45" y="-3.25" width="4.9" height="6.5" fill="#2a2a2a"/><rect transform="translate(353.13 104.51) rotate(-44.28)" x="-2.45" y="-3.25" width="4.9" height="6.5" fill="#2a2a2a"/><rect transform="translate(346.45 98.17) rotate(-48.66)" x="-2.45" y="-3.25" width="4.9" height="6.5" fill="#2a2a2a"/><rect transform="translate(339.32 92.36) rotate(-53.05)" x="-2.45" y="-3.25" width="4.9" height="6.5" fill="#2a2a2a"/><rect transform="translate(331.75 87.11) rotate(-57.43)" x="-2.45" y="-3.25" width="4.9" height="6.5" fill="#2a2a2a"/><rect transform="translate(323.81 82.46) rotate(-61.82)" x="-2.45" y="-3.25" width="4.9" height="6.5" fill="#2a2a2a"/><rect transform="translate(315.54 78.43) rotate(-66.2)" x="-2.45" y="-3.25" width="4.9" height="6.5" fill="#2a2a2a"/><rect transform="translate(306.98 75.04) rotate(-70.59)" x="-2.45" y="-3.25" width="4.9" height="6.5" fill="#2a2a2a"/><rect transform="translate(298.19 72.31) rotate(-74.97)" x="-2.45" y="-3.25" width="4.9" height="6.5" fill="#2a2a2a"/><rect transform="translate(289.22 70.27) rotate(-79.36)" x="-2.45" y="-3.25" width="4.9" height="6.5" fill="#2a2a2a"/><rect transform="translate(280.11 68.92) rotate(-83.74)" x="-2.45" y="-3.25" width="4.9" height="6.5" fill="#2a2a2a"/><rect transform="translate(270.93 68.26) rotate(-88.13)" x="-2.45" y="-3.25" width="4.9" height="6.5" fill="#2a2a2a"/><rect transform="translate(261.73 68.32) rotate(-92.51)" x="-2.45" y="-3.25" width="4.9" height="6.5" fill="#2a2a2a"/><rect transform="translate(252.55 69.07) rotate(-96.9)" x="-2.45" y="-3.25" width="4.9" height="6.5" fill="#2a2a2a"/><rect transform="translate(243.46 70.52) rotate(-101.28)" x="-2.45" y="-3.25" width="4.9" height="6.5" fill="#2a2a2a"/><rect transform="translate(234.51 72.67) rotate(-105.67)" x="-2.45" y="-3.25" width="4.9" height="6.5" fill="#2a2a2a"/><rect transform="translate(225.75 75.49) rotate(-110.05)" x="-2.45" y="-3.25" width="4.9" height="6.5" fill="#2a2a2a"/><rect transform="translate(217.23 78.98) rotate(-114.44)" x="-2.45" y="-3.25" width="4.9" height="6.5" fill="#2a2a2a"/><rect transform="translate(209 83.1) rotate(-118.82)" x="-2.45" y="-3.25" width="4.9" height="6.5" fill="#2a2a2a"/><rect transform="translate(201.12 87.85) rotate(-123.21)" x="-2.45" y="-3.25" width="4.9" height="6.5" fill="#2a2a2a"/><rect transform="translate(193.61 93.18) rotate(-127.59)" x="-2.45" y="-3.25" width="4.9" height="6.5" fill="#d2d2d2"/><rect transform="translate(186.54 99.07) rotate(-131.98)" x="-2.45" y="-3.25" width="4.9" height="6.5" fill="#2a2a2a"/><rect transform="translate(179.94 105.48) rotate(-136.36)" x="-2.45" y="-3.25" width="4.9" height="6.5" fill="#2a2a2a"/><rect transform="translate(173.84 112.38) rotate(-140.75)" x="-2.45" y="-3.25" width="4.9" height="6.5" fill="#2a2a2a"/><rect transform="translate(168.3 119.73) rotate(-145.13)" x="-2.45" y="-3.25" width="4.9" height="6.5" fill="#2a2a2a"/><rect transform="translate(163.33 127.47) rotate(-149.52)" x="-2.45" y="-3.25" width="4.9" height="6.5" fill="#2a2a2a"/><rect transform="translate(158.97 135.58) rotate(-153.9)" x="-2.45" y="-3.25" width="4.9" height="6.5" fill="#2a2a2a"/><rect transform="translate(155.24 143.99) rotate(-158.29)" x="-2.45" y="-3.25" width="4.9" height="6.5" fill="#d2d2d2"/><rect transform="translate(152.16 152.67) rotate(-162.67)" x="-2.45" y="-3.25" width="4.9" height="6.5" fill="#2a2a2a"/><rect transform="translate(149.76 161.55) rotate(-167.06)" x="-2.45" y="-3.25" width="4.9" height="6.5" fill="#d2d2d2"/><rect transform="translate(148.04 170.6) rotate(-171.44)" x="-2.45" y="-3.25" width="4.9" height="6.5" fill="#d2d2d2"/><rect transform="translate(147.02 179.74) rotate(-175.83)" x="-2.45" y="-3.25" width="4.9" height="6.5" fill="#d2d2d2"/><rect transform="translate(146.7 188.94) rotate(-180.21)" x="-2.45" y="-3.25" width="4.9" height="6.5" fill="#d2d2d2"/><rect transform="translate(147.09 198.14) rotate(-184.6)" x="-2.45" y="-3.25" width="4.9" height="6.5" fill="#2a2a2a"/><rect transform="translate(148.17 207.28) rotate(-188.98)" x="-2.45" y="-3.25" width="4.9" height="6.5" fill="#2a2a2a"/><rect transform="translate(149.96 216.31) rotate(-193.37)" x="-2.45" y="-3.25" width="4.9" height="6.5" fill="#2a2a2a"/><rect transform="translate(152.43 225.18) rotate(-197.75)" x="-2.45" y="-3.25" width="4.9" height="6.5" fill="#2a2a2a"/><rect transform="translate(155.57 233.83) rotate(-202.14)" x="-2.45" y="-3.25" width="4.9" height="6.5" fill="#2a2a2a"/><rect transform="translate(159.36 242.22) rotate(-206.52)" x="-2.45" y="-3.25" width="4.9" height="6.5" fill="#2a2a2a"/><rect transform="translate(163.78 250.29) rotate(-210.91)" x="-2.45" y="-3.25" width="4.9" height="6.5" fill="#2a2a2a"/><rect transform="translate(168.81 258) rotate(-215.29)" x="-2.45" y="-3.25" width="4.9" height="6.5" fill="#2a2a2a"/><rect transform="translate(174.41 265.3) rotate(-219.68)" x="-2.45" y="-3.25" width="4.9" height="6.5" fill="#2a2a2a"/><rect transform="translate(180.55 272.16) rotate(-224.06)" x="-2.45" y="-3.25" width="4.9" height="6.5" fill="#2a2a2a"/><rect transform="translate(187.2 278.52) rotate(-228.44)" x="-2.45" y="-3.25" width="4.9" height="6.5" fill="#2a2a2a"/><rect transform="translate(194.32 284.36) rotate(-232.83)" x="-2.45" y="-3.25" width="4.9" height="6.5" fill="#2a2a2a"/><rect transform="translate(201.86 289.64) rotate(-237.21)" x="-2.45" y="-3.25" width="4.9" height="6.5" fill="#2a2a2a"/><rect transform="translate(209.78 294.32) rotate(-241.6)" x="-2.45" y="-3.25" width="4.9" height="6.5" fill="#2a2a2a"/><rect transform="translate(218.04 298.39) rotate(-245.98)" x="-2.45" y="-3.25" width="4.9" height="6.5" fill="#2a2a2a"/><rect transform="translate(226.58 301.81) rotate(-250.37)" x="-2.45" y="-3.25" width="4.9" height="6.5" fill="#2a2a2a"/><rect transform="translate(235.37 304.57) rotate(-254.75)" x="-2.45" y="-3.25" width="4.9" height="6.5" fill="#2a2a2a"/><rect transform="translate(244.33 306.65) rotate(-259.14)" x="-2.45" y="-3.25" width="4.9" height="6.5" fill="#2a2a2a"/><rect transform="translate(253.43 308.03) rotate(-263.52)" x="-2.45" y="-3.25" width="4.9" height="6.5" fill="#2a2a2a"/><rect transform="translate(262.61 308.72) rotate(-267.91)" x="-2.45" y="-3.25" width="4.9" height="6.5" fill="#2a2a2a"/><rect transform="translate(271.81 308.7) rotate(-272.29)" x="-2.45" y="-3.25" width="4.9" height="6.5" fill="#2a2a2a"/><rect transform="translate(280.99 307.98) rotate(-276.68)" x="-2.45" y="-3.25" width="4.9" height="6.5" fill="#2a2a2a"/><rect transform="translate(290.09 306.56) rotate(-281.06)" x="-2.45" y="-3.25" width="4.9" height="6.5" fill="#2a2a2a"/><rect transform="translate(299.04 304.45) rotate(-285.45)" x="-2.45" y="-3.25" width="4.9" height="6.5" fill="#2a2a2a"/><rect transform="translate(307.82 301.66) rotate(-289.83)" x="-2.45" y="-3.25" width="4.9" height="6.5" fill="#2a2a2a"/><rect transform="translate(316.35 298.21) rotate(-294.22)" x="-2.45" y="-3.25" width="4.9" height="6.5" fill="#2a2a2a"/><rect transform="translate(324.59 294.12) rotate(-298.6)" x="-2.45" y="-3.25" width="4.9" height="6.5" fill="#2a2a2a"/><rect transform="translate(332.5 289.41) rotate(-302.99)" x="-2.45" y="-3.25" width="4.9" height="6.5" fill="#2a2a2a"/><rect transform="translate(340.02 284.1) rotate(-307.37)" x="-2.45" y="-3.25" width="4.9" height="6.5" fill="#2a2a2a"/><rect transform="translate(347.12 278.24) rotate(-311.76)" x="-2.45" y="-3.25" width="4.9" height="6.5" fill="#2a2a2a"/><rect transform="translate(353.74 271.85) rotate(-316.14)" x="-2.45" y="-3.25" width="4.9" height="6.5" fill="#2a2a2a"/><rect transform="translate(359.86 264.98) rotate(-320.53)" x="-2.45" y="-3.25" width="4.9" height="6.5" fill="#2a2a2a"/><rect transform="translate(365.44 257.65) rotate(-324.91)" x="-2.45" y="-3.25" width="4.9" height="6.5" fill="#2a2a2a"/><rect transform="translate(370.44 249.92) rotate(-329.3)" x="-2.45" y="-3.25" width="4.9" height="6.5" fill="#2a2a2a"/><rect transform="translate(374.83 241.83) rotate(-333.68)" x="-2.45" y="-3.25" width="4.9" height="6.5" fill="#2a2a2a"/><rect transform="translate(378.59 233.43) rotate(-338.07)" x="-2.45" y="-3.25" width="4.9" height="6.5" fill="#2a2a2a"/><rect transform="translate(381.7 224.77) rotate(-342.45)" x="-2.45" y="-3.25" width="4.9" height="6.5" fill="#2a2a2a"/><rect transform="translate(384.14 215.89) rotate(-346.84)" x="-2.45" y="-3.25" width="4.9" height="6.5" fill="#d2d2d2"/><rect transform="translate(385.89 206.86) rotate(-351.22)" x="-2.45" y="-3.25" width="4.9" height="6.5" fill="#2a2a2a"/><rect transform="translate(386.95 197.72) rotate(-355.61)" x="-2.45" y="-3.25" width="4.9" height="6.5" fill="#d2d2d2"/>
<path d="M395.43 167.7L441.23 160.28M393.46 157.94L438.95 146.95M390.75 148.36L434.13 134.29M387.32 139.02L427.09 122.66M383.19 129.96L419.27 111.79M378.37 121.25L422.89 94.37M372.9 112.93L416.05 82.15M366.82 105.06L402.88 74.91M360.14 97.67L390.86 67.72M352.93 90.81L381.53 58.3M345.21 84.53L371.3 49.85M337.03 78.86L360.28 42.45M328.44 73.82L348.61 36.18M319.49 69.46L337.81 27.92M310.24 65.8L325.86 21.47M300.73 62.85L311.57 22.48M291.03 60.64L298.67 19.95M281.18 59.17L285.59 18.92M271.25 58.47L272.64 15.99M261.3 58.53L259.41 15.57M251.37 59.34L246.61 19.93M241.55 60.91L233.56 20.9M231.87 63.23L221.09 24.82M222.39 66.29L208.68 28.71M213.18 70.06L196.92 34.28M204.28 74.52L186.15 41.57M195.75 79.65L174.28 46.85M187.63 85.41L161.4 51.34M179.98 91.78L156.58 65.76M172.84 98.72L146.72 73.81M166.26 106.18L136.06 81.5M160.26 114.12L130.23 93.2M154.88 122.5L124.55 104.65M150.17 131.27L116.49 114.77M146.13 140.37L108.41 125.35M142.8 149.75L98.61 135.96M140.21 159.36L101.12 150.38M138.35 169.14L101.86 163.65M137.25 179.03L99.84 176.3M136.9 188.98L99.8 189.12M137.32 198.92L91.57 202.6M138.49 208.81L91.87 216.18M140.42 218.57L91.78 230.13M143.09 228.16L91.95 244.54M146.49 237.52L98.6 257M150.59 246.59L103.26 270.21M155.37 255.32L120.62 276.12M160.81 263.66L128.65 286.42M166.86 271.56L135.62 297.48M173.51 278.97L132.4 318.75M180.7 285.86L155.43 314.37M188.4 292.17L166.22 321.41M196.55 297.88L176.57 328.9M205.12 302.94L188.14 334.35M214.05 307.34L199.48 340.04M223.29 311.04L211.06 345.32M232.79 314.02L223.59 347.79M242.49 316.27L235.74 351.43M252.33 317.77L248.15 354.53M262.25 318.51L260.96 353.99M272.21 318.5L273.7 355.77M282.13 317.72L288.19 369.46M291.97 316.18L298.2 348.08M301.65 313.9L311.22 348.5M311.14 310.88L322.74 343.05M320.37 307.15L334.32 338.16M329.28 302.72L347 335.21M337.83 297.63L357.98 328.66M345.97 291.89L368.67 321.61M353.64 285.55L376.02 310.61M360.81 278.64L392.03 308.64M367.43 271.21L394.6 293.58M373.46 263.28L402.42 283.63M378.86 254.93L408.01 272.24M383.62 246.18L414.9 261.65M387.68 237.09L421.54 250.73M391.05 227.73L422.32 237.61M393.68 218.13L452.01 231.77M395.58 208.35L454.97 217.53M396.72 198.47L457.04 203.1" stroke="#1e1e1e" stroke-width="1.5" fill="none"/>
<ellipse transform="translate(410.13 165.32) rotate(-9.2)" rx="0.85" ry="2.25" fill="#3aaa35"/><ellipse transform="translate(417.14 164.18) rotate(-9.2)" rx="0.85" ry="2.25" fill="#fb9a99"/><ellipse transform="translate(426.13 162.73) rotate(-9.2)" rx="0.85" ry="2.25" fill="#2f86c6"/><ellipse transform="translate(432.54 161.69) rotate(-9.2)" rx="0.85" ry="2.25" fill="#a6cee3"/><ellipse transform="translate(408.23 154.37) rotate(-13.58)" rx="0.85" ry="2.25" fill="#3aaa35"/><ellipse transform="translate(415.04 152.73) rotate(-13.58)" rx="0.85" ry="2.25" fill="#fb9a99"/><ellipse transform="translate(423.79 150.61) rotate(-13.58)" rx="0.85" ry="2.25" fill="#2f86c6"/><ellipse transform="translate(430.11 149.09) rotate(-13.58)" rx="0.85" ry="2.25" fill="#a6cee3"/><ellipse transform="translate(403.5 144.23) rotate(-17.97)" rx="0.85" ry="2.25" fill="#3aaa35"/><ellipse transform="translate(410.16 142.07) rotate(-17.97)" rx="0.85" ry="2.25" fill="#fb9a99"/><ellipse transform="translate(419.67 138.98) rotate(-17.97)" rx="0.85" ry="2.25" fill="#2f86c6"/><ellipse transform="translate(425 137.26) rotate(-17.97)" rx="0.85" ry="2.25" fill="#a6cee3"/><ellipse transform="translate(396.48 135.25) rotate(-22.35)" rx="0.85" ry="2.25" fill="#3aaa35"/><ellipse transform="translate(404.34 132.02) rotate(-22.35)" rx="0.85" ry="2.25" fill="#fb9a99"/><ellipse transform="translate(413.59 128.22) rotate(-22.35)" rx="0.85" ry="2.25" fill="#2f86c6"/><ellipse transform="translate(419.14 125.93) rotate(-22.35)" rx="0.85" ry="2.25" fill="#a6cee3"/><ellipse transform="translate(391.14 125.96) rotate(-26.74)" rx="0.85" ry="2.25" fill="#3aaa35"/><ellipse transform="translate(397.83 122.58) rotate(-26.74)" rx="0.85" ry="2.25" fill="#fb9a99"/><ellipse transform="translate(405.87 118.53) rotate(-26.74)" rx="0.85" ry="2.25" fill="#2f86c6"/><ellipse transform="translate(411.23 115.84) rotate(-26.74)" rx="0.85" ry="2.25" fill="#a6cee3"/><ellipse transform="translate(395.83 110.71) rotate(-31.12)" rx="0.85" ry="2.25" fill="#3aaa35"/><ellipse transform="translate(401.83 107.09) rotate(-31.12)" rx="0.85" ry="2.25" fill="#fb9a99"/><ellipse transform="translate(407.48 103.68) rotate(-31.12)" rx="0.85" ry="2.25" fill="#7440ae"/><ellipse transform="translate(410.39 101.92) rotate(-31.12)" rx="0.85" ry="2.25" fill="#2f86c6"/><ellipse transform="translate(415.1 99.08) rotate(-31.12)" rx="0.85" ry="2.25" fill="#a6cee3"/><ellipse transform="translate(390.32 100.5) rotate(-35.51)" rx="0.85" ry="2.25" fill="#3aaa35"/><ellipse transform="translate(396.02 96.44) rotate(-35.51)" rx="0.85" ry="2.25" fill="#fb9a99"/><ellipse transform="translate(401.15 92.78) rotate(-35.51)" rx="0.85" ry="2.25" fill="#7440ae"/><ellipse transform="translate(404.57 90.34) rotate(-35.51)" rx="0.85" ry="2.25" fill="#2f86c6"/><ellipse transform="translate(409.86 86.56) rotate(-35.51)" rx="0.85" ry="2.25" fill="#a6cee3"/><ellipse transform="translate(378.17 95.57) rotate(-39.89)" rx="0.85" ry="2.25" fill="#3aaa35"/><ellipse transform="translate(385.15 89.73) rotate(-39.89)" rx="0.85" ry="2.25" fill="#fb9a99"/><ellipse transform="translate(390.14 85.56) rotate(-39.89)" rx="0.85" ry="2.25" fill="#7440ae"/><ellipse transform="translate(392.44 83.64) rotate(-39.89)" rx="0.85" ry="2.25" fill="#2f86c6"/><ellipse transform="translate(397.05 79.79) rotate(-39.89)" rx="0.85" ry="2.25" fill="#a6cee3"/><ellipse transform="translate(365.59 92.36) rotate(-44.28)" rx="0.85" ry="2.25" fill="#3aaa35"/><ellipse transform="translate(371.1 86.99) rotate(-44.28)" rx="0.85" ry="2.25" fill="#fb9a99"/><ellipse transform="translate(376.61 81.61) rotate(-44.28)" rx="0.85" ry="2.25" fill="#7440ae"/><ellipse transform="translate(379.4 78.89) rotate(-44.28)" rx="0.85" ry="2.25" fill="#2f86c6"/><ellipse transform="translate(383.05 75.33) rotate(-44.28)" rx="0.85" ry="2.25" fill="#a6cee3"/><ellipse transform="translate(357.29 85.86) rotate(-48.66)" rx="0.85" ry="2.25" fill="#3aaa35"/><ellipse transform="translate(363.23 79.1) rotate(-48.66)" rx="0.85" ry="2.25" fill="#fb9a99"/><ellipse transform="translate(368.38 73.24) rotate(-48.66)" rx="0.85" ry="2.25" fill="#7440ae"/><ellipse transform="translate(370.89 70.39) rotate(-48.66)" rx="0.85" ry="2.25" fill="#2f86c6"/><ellipse transform="translate(374.79 65.96) rotate(-48.66)" rx="0.85" ry="2.25" fill="#a6cee3"/><ellipse transform="translate(349.9 78.3) rotate(-53.05)" rx="0.85" ry="2.25" fill="#3aaa35"/><ellipse transform="translate(354.77 71.82) rotate(-53.05)" rx="0.85" ry="2.25" fill="#fb9a99"/><ellipse transform="translate(358.97 66.23) rotate(-53.05)" rx="0.85" ry="2.25" fill="#ff8410"/><ellipse transform="translate(361.56 62.79) rotate(-53.05)" rx="0.85" ry="2.25" fill="#2f86c6"/><ellipse transform="translate(364.74 58.56) rotate(-53.05)" rx="0.85" ry="2.25" fill="#a6cee3"/><ellipse transform="translate(343.06 69.42) rotate(-57.43)" rx="0.85" ry="2.25" fill="#3aaa35"/><ellipse transform="translate(347.26 62.84) rotate(-57.43)" rx="0.85" ry="2.25" fill="#fb9a99"/><ellipse transform="translate(350.65 57.53) rotate(-57.43)" rx="0.85" ry="2.25" fill="#7440ae"/><ellipse transform="translate(352.53 54.58) rotate(-57.43)" rx="0.85" ry="2.25" fill="#2f86c6"/><ellipse transform="translate(355.01 50.71) rotate(-57.43)" rx="0.85" ry="2.25" fill="#a6cee3"/><ellipse transform="translate(333.83 63.77) rotate(-61.82)" rx="0.85" ry="2.25" fill="#3aaa35"/><ellipse transform="translate(337.27 57.34) rotate(-61.82)" rx="0.85" ry="2.25" fill="#fb9a99"/><ellipse transform="translate(340.3 51.7) rotate(-61.82)" rx="0.85" ry="2.25" fill="#7440ae"/><ellipse transform="translate(341.71 49.05) rotate(-61.82)" rx="0.85" ry="2.25" fill="#2f86c6"/><ellipse transform="translate(344.59 43.68) rotate(-61.82)" rx="0.85" ry="2.25" fill="#a6cee3"/><ellipse transform="translate(324.5 58.11) rotate(-66.2)" rx="0.85" ry="2.25" fill="#3aaa35"/><ellipse transform="translate(328.13 49.88) rotate(-66.2)" rx="0.85" ry="2.25" fill="#fb9a99"/><ellipse transform="translate(330.43 44.66) rotate(-66.2)" rx="0.85" ry="2.25" fill="#7440ae"/><ellipse transform="translate(331.72 41.74) rotate(-66.2)" rx="0.85" ry="2.25" fill="#2f86c6"/><ellipse transform="translate(334.38 35.7) rotate(-66.2)" rx="0.85" ry="2.25" fill="#a6cee3"/><ellipse transform="translate(315.22 51.65) rotate(-70.59)" rx="0.85" ry="2.25" fill="#3aaa35"/><ellipse transform="translate(317.82 44.29) rotate(-70.59)" rx="0.85" ry="2.25" fill="#fb9a99"/><ellipse transform="translate(319.78 38.73) rotate(-70.59)" rx="0.85" ry="2.25" fill="#7440ae"/><ellipse transform="translate(321.01 35.24) rotate(-70.59)" rx="0.85" ry="2.25" fill="#2f86c6"/><ellipse transform="translate(323.27 28.82) rotate(-70.59)" rx="0.85" ry="2.25" fill="#a6cee3"/><ellipse transform="translate(303.06 54.16) rotate(-74.97)" rx="0.85" ry="2.25" fill="#3aaa35"/><ellipse transform="translate(304.9 47.3) rotate(-74.97)" rx="0.85" ry="2.25" fill="#fb9a99"/><ellipse transform="translate(306.95 39.67) rotate(-74.97)" rx="0.85" ry="2.25" fill="#7440ae"/><ellipse transform="translate(307.68 36.97) rotate(-74.97)" rx="0.85" ry="2.25" fill="#2f86c6"/><ellipse transform="translate(309.62 29.72) rotate(-74.97)" rx="0.85" ry="2.25" fill="#a6cee3"/><ellipse transform="translate(292.95 50.42) rotate(-79.36)" rx="0.85" ry="2.25" fill="#3aaa35"/><ellipse transform="translate(294.33 43.05) rotate(-79.36)" rx="0.85" ry="2.25" fill="#fb9a99"/><ellipse transform="translate(295.53 36.66) rotate(-79.36)" rx="0.85" ry="2.25" fill="#7440ae"/><ellipse transform="translate(296.18 33.22) rotate(-79.36)" rx="0.85" ry="2.25" fill="#2f86c6"/><ellipse transform="translate(297.38 26.83) rotate(-79.36)" rx="0.85" ry="2.25" fill="#a6cee3"/><ellipse transform="translate(282.49 47.25) rotate(-83.74)" rx="0.85" ry="2.25" fill="#3aaa35"/><ellipse transform="translate(283.29 39.89) rotate(-83.74)" rx="0.85" ry="2.25" fill="#fb9a99"/><ellipse transform="translate(283.95 33.93) rotate(-83.74)" rx="0.85" ry="2.25" fill="#7440ae"/><ellipse transform="translate(284.34 30.35) rotate(-83.74)" rx="0.85" ry="2.25" fill="#2f86c6"/><ellipse transform="translate(284.99 24.38) rotate(-83.74)" rx="0.85" ry="2.25" fill="#a6cee3"/><ellipse transform="translate(271.63 46.98) rotate(-88.13)" rx="0.85" ry="2.25" fill="#3aaa35"/><ellipse transform="translate(271.87 39.58) rotate(-88.13)" rx="0.85" ry="2.25" fill="#fb9a99"/><ellipse transform="translate(272.16 30.58) rotate(-88.13)" rx="0.85" ry="2.25" fill="#2f86c6"/><ellipse transform="translate(272.34 24.99) rotate(-88.13)" rx="0.85" ry="2.25" fill="#a6cee3"/><ellipse transform="translate(260.79 47.04) rotate(-92.51)" rx="0.85" ry="2.25" fill="#3aaa35"/><ellipse transform="translate(260.45 39.34) rotate(-92.51)" rx="0.85" ry="2.25" fill="#fb9a99"/><ellipse transform="translate(260.09 30.95) rotate(-92.51)" rx="0.85" ry="2.25" fill="#2f86c6"/><ellipse transform="translate(259.82 24.96) rotate(-92.51)" rx="0.85" ry="2.25" fill="#a6cee3"/><ellipse transform="translate(250.73 53.98) rotate(-96.9)" rx="0.85" ry="2.25" fill="#cab2d6"/><ellipse transform="translate(250.23 49.91) rotate(-96.9)" rx="0.85" ry="2.25" fill="#3aaa35"/><ellipse transform="translate(249.38 42.86) rotate(-96.9)" rx="0.85" ry="2.25" fill="#fb9a99"/><ellipse transform="translate(248.49 35.52) rotate(-96.9)" rx="0.85" ry="2.25" fill="#2f86c6"/><ellipse transform="translate(247.81 29.86) rotate(-96.9)" rx="0.85" ry="2.25" fill="#a6cee3"/><ellipse transform="translate(240.82 57.29) rotate(-101.28)" rx="0.85" ry="2.25" fill="#cab2d6"/><ellipse transform="translate(239.94 52.87) rotate(-101.28)" rx="0.85" ry="2.25" fill="#3aaa35"/><ellipse transform="translate(238.55 45.91) rotate(-101.28)" rx="0.85" ry="2.25" fill="#fb9a99"/><ellipse transform="translate(236.62 36.2) rotate(-101.28)" rx="0.85" ry="2.25" fill="#2f86c6"/><ellipse transform="translate(235.42 30.22) rotate(-101.28)" rx="0.85" ry="2.25" fill="#a6cee3"/><ellipse transform="translate(230.92 59.86) rotate(-105.67)" rx="0.85" ry="2.25" fill="#cab2d6"/><ellipse transform="translate(229.87 56.11) rotate(-105.67)" rx="0.85" ry="2.25" fill="#3aaa35"/><ellipse transform="translate(228.11 49.85) rotate(-105.67)" rx="0.85" ry="2.25" fill="#fb9a99"/><ellipse transform="translate(226.28 43.3) rotate(-105.67)" rx="0.85" ry="2.25" fill="#ff8410"/><ellipse transform="translate(225.28 39.74) rotate(-105.67)" rx="0.85" ry="2.25" fill="#2f86c6"/><ellipse transform="translate(223.87 34.73) rotate(-105.67)" rx="0.85" ry="2.25" fill="#a6cee3"/><ellipse transform="translate(221.95 65.07) rotate(-110.05)" rx="0.85" ry="2.25" fill="#cab2d6"/><ellipse transform="translate(219.34 57.93) rotate(-110.05)" rx="0.85" ry="2.25" fill="#3aaa35"/><ellipse transform="translate(216.39 49.85) rotate(-110.05)" rx="0.85" ry="2.25" fill="#fb9a99"/><ellipse transform="translate(214.54 44.78) rotate(-110.05)" rx="0.85" ry="2.25" fill="#7440ae"/><ellipse transform="translate(213.3 41.39) rotate(-110.05)" rx="0.85" ry="2.25" fill="#2f86c6"/><ellipse transform="translate(211.28 35.85) rotate(-110.05)" rx="0.85" ry="2.25" fill="#a6cee3"/><ellipse transform="translate(208.63 60.04) rotate(-114.44)" rx="0.85" ry="2.25" fill="#3aaa35"/><ellipse transform="translate(205.9 54.03) rotate(-114.44)" rx="0.85" ry="2.25" fill="#fb9a99"/><ellipse transform="translate(203.58 48.93) rotate(-114.44)" rx="0.85" ry="2.25" fill="#7440ae"/><ellipse transform="translate(202.21 45.93) rotate(-114.44)" rx="0.85" ry="2.25" fill="#2f86c6"/><ellipse transform="translate(199.98 41.01) rotate(-114.44)" rx="0.85" ry="2.25" fill="#a6cee3"/><ellipse transform="translate(200.23 67.16) rotate(-118.82)" rx="0.85" ry="2.25" fill="#3aaa35"/><ellipse transform="translate(196.85 61.02) rotate(-118.82)" rx="0.85" ry="2.25" fill="#fb9a99"/><ellipse transform="translate(194.06 55.94) rotate(-118.82)" rx="0.85" ry="2.25" fill="#7440ae"/><ellipse transform="translate(192.47 53.05) rotate(-118.82)" rx="0.85" ry="2.25" fill="#2f86c6"/><ellipse transform="translate(190.2 48.93) rotate(-118.82)" rx="0.85" ry="2.25" fill="#a6cee3"/><ellipse transform="translate(190.33 71.36) rotate(-123.21)" rx="0.85" ry="2.25" fill="#3aaa35"/><ellipse transform="translate(186.33 65.25) rotate(-123.21)" rx="0.85" ry="2.25" fill="#fb9a99"/><ellipse transform="translate(182.93 60.07) rotate(-123.21)" rx="0.85" ry="2.25" fill="#7440ae"/><ellipse transform="translate(181.34 57.64) rotate(-123.21)" rx="0.85" ry="2.25" fill="#2f86c6"/><ellipse transform="translate(178 52.54) rotate(-123.21)" rx="0.85" ry="2.25" fill="#a6cee3"/><ellipse transform="translate(179.22 74.48) rotate(-127.59)" rx="0.85" ry="2.25" fill="#3aaa35"/><ellipse transform="translate(175.19 69.25) rotate(-127.59)" rx="0.85" ry="2.25" fill="#fb9a99"/><ellipse transform="translate(171.1 63.94) rotate(-127.59)" rx="0.85" ry="2.25" fill="#7440ae"/><ellipse transform="translate(169.15 61.4) rotate(-127.59)" rx="0.85" ry="2.25" fill="#2f86c6"/><ellipse transform="translate(166.16 57.52) rotate(-127.59)" rx="0.85" ry="2.25" fill="#a6cee3"/><ellipse transform="translate(179.18 90.89) rotate(-131.98)" rx="0.85" ry="2.25" fill="#cab2d6"/><ellipse transform="translate(176.77 88.21) rotate(-131.98)" rx="0.85" ry="2.25" fill="#3aaa35"/><ellipse transform="translate(171.69 82.56) rotate(-131.98)" rx="0.85" ry="2.25" fill="#fb9a99"/><ellipse transform="translate(165.81 76.02) rotate(-131.98)" rx="0.85" ry="2.25" fill="#2f86c6"/><ellipse transform="translate(161.99 71.78) rotate(-131.98)" rx="0.85" ry="2.25" fill="#a6cee3"/><ellipse transform="translate(169.44 95.47) rotate(-136.36)" rx="0.85" ry="2.25" fill="#3aaa35"/><ellipse transform="translate(164.23 90.51) rotate(-136.36)" rx="0.85" ry="2.25" fill="#fb9a99"/><ellipse transform="translate(159.67 86.16) rotate(-136.36)" rx="0.85" ry="2.25" fill="#7440ae"/><ellipse transform="translate(157.07 83.67) rotate(-136.36)" rx="0.85" ry="2.25" fill="#2f86c6"/><ellipse transform="translate(152.51 79.33) rotate(-136.36)" rx="0.85" ry="2.25" fill="#a6cee3"/><ellipse transform="translate(164.86 105.04) rotate(-140.75)" rx="0.85" ry="2.25" fill="#ff8410"/><ellipse transform="translate(161.76 102.51) rotate(-140.75)" rx="0.85" ry="2.25" fill="#3aaa35"/><ellipse transform="translate(156.19 97.95) rotate(-140.75)" rx="0.85" ry="2.25" fill="#fb9a99"/><ellipse transform="translate(150.07 92.96) rotate(-140.75)" rx="0.85" ry="2.25" fill="#7440ae"/><ellipse transform="translate(147.28 90.68) rotate(-140.75)" rx="0.85" ry="2.25" fill="#2f86c6"/><ellipse transform="translate(141.94 86.31) rotate(-140.75)" rx="0.85" ry="2.25" fill="#a6cee3"/><ellipse transform="translate(155.42 110.75) rotate(-145.13)" rx="0.85" ry="2.25" fill="#3aaa35"/><ellipse transform="translate(149.84 106.86) rotate(-145.13)" rx="0.85" ry="2.25" fill="#fb9a99"/><ellipse transform="translate(144.91 103.43) rotate(-145.13)" rx="0.85" ry="2.25" fill="#7440ae"/><ellipse transform="translate(141.71 101.2) rotate(-145.13)" rx="0.85" ry="2.25" fill="#2f86c6"/><ellipse transform="translate(137.2 98.06) rotate(-145.13)" rx="0.85" ry="2.25" fill="#a6cee3"/><ellipse transform="translate(151 120.22) rotate(-149.52)" rx="0.85" ry="2.25" fill="#3aaa35"/><ellipse transform="translate(145.4 116.92) rotate(-149.52)" rx="0.85" ry="2.25" fill="#fb9a99"/><ellipse transform="translate(139.72 113.57) rotate(-149.52)" rx="0.85" ry="2.25" fill="#7440ae"/><ellipse transform="translate(136.18 111.49) rotate(-149.52)" rx="0.85" ry="2.25" fill="#2f86c6"/><ellipse transform="translate(131.1 108.5) rotate(-149.52)" rx="0.85" ry="2.25" fill="#a6cee3"/><ellipse transform="translate(144.96 128.72) rotate(-153.9)" rx="0.85" ry="2.25" fill="#3aaa35"/><ellipse transform="translate(139.12 125.86) rotate(-153.9)" rx="0.85" ry="2.25" fill="#fb9a99"/><ellipse transform="translate(129.51 121.15) rotate(-153.9)" rx="0.85" ry="2.25" fill="#2f86c6"/><ellipse transform="translate(124.21 118.55) rotate(-153.9)" rx="0.85" ry="2.25" fill="#a6cee3"/><ellipse transform="translate(138.98 137.52) rotate(-158.29)" rx="0.85" ry="2.25" fill="#3aaa35"/><ellipse transform="translate(132.38 134.89) rotate(-158.29)" rx="0.85" ry="2.25" fill="#fb9a99"/><ellipse transform="translate(122.07 130.79) rotate(-158.29)" rx="0.85" ry="2.25" fill="#2f86c6"/><ellipse transform="translate(117.7 129.05) rotate(-158.29)" rx="0.85" ry="2.25" fill="#a6cee3"/><ellipse transform="translate(139.27 148.65) rotate(-162.67)" rx="0.85" ry="2.25" fill="#7440ae"/><ellipse transform="translate(136.03 147.63) rotate(-162.67)" rx="0.85" ry="2.25" fill="#3aaa35"/><ellipse transform="translate(130.2 145.82) rotate(-162.67)" rx="0.85" ry="2.25" fill="#fb9a99"/><ellipse transform="translate(121.14 142.99) rotate(-162.67)" rx="0.85" ry="2.25" fill="#2f86c6"/><ellipse transform="translate(133.09 157.72) rotate(-167.06)" rx="0.85" ry="2.25" fill="#3aaa35"/><ellipse transform="translate(125.78 156.04) rotate(-167.06)" rx="0.85" ry="2.25" fill="#fb9a99"/><ellipse transform="translate(113.4 153.2) rotate(-167.06)" rx="0.85" ry="2.25" fill="#2f86c6"/><ellipse transform="translate(107.65 151.88) rotate(-167.06)" rx="0.85" ry="2.25" fill="#a6cee3"/><ellipse transform="translate(130.93 168.02) rotate(-171.44)" rx="0.85" ry="2.25" fill="#3aaa35"/><ellipse transform="translate(124.41 167.04) rotate(-171.44)" rx="0.85" ry="2.25" fill="#fb9a99"/><ellipse transform="translate(118.57 166.16) rotate(-171.44)" rx="0.85" ry="2.25" fill="#7440ae"/><ellipse transform="translate(113.92 165.46) rotate(-171.44)" rx="0.85" ry="2.25" fill="#2f86c6"/><ellipse transform="translate(108.39 164.63) rotate(-171.44)" rx="0.85" ry="2.25" fill="#a6cee3"/><ellipse transform="translate(129.67 178.48) rotate(-175.83)" rx="0.85" ry="2.25" fill="#3aaa35"/><ellipse transform="translate(123.08 178) rotate(-175.83)" rx="0.85" ry="2.25" fill="#fb9a99"/><ellipse transform="translate(117.7 177.6) rotate(-175.83)" rx="0.85" ry="2.25" fill="#7440ae"/><ellipse transform="translate(112.51 177.23) rotate(-175.83)" rx="0.85" ry="2.25" fill="#2f86c6"/><ellipse transform="translate(107.13 176.83) rotate(-175.83)" rx="0.85" ry="2.25" fill="#a6cee3"/><ellipse transform="translate(130.4 189) rotate(-180.21)" rx="0.85" ry="2.25" fill="#3aaa35"/><ellipse transform="translate(123.5 189.03) rotate(-180.21)" rx="0.85" ry="2.25" fill="#fb9a99"/><ellipse transform="translate(112.5 189.07) rotate(-180.21)" rx="0.85" ry="2.25" fill="#2f86c6"/><ellipse transform="translate(107.1 189.09) rotate(-180.21)" rx="0.85" ry="2.25" fill="#a6cee3"/><ellipse transform="translate(123.86 200.01) rotate(-184.6)" rx="0.85" ry="2.25" fill="#3aaa35"/><ellipse transform="translate(116.29 200.62) rotate(-184.6)" rx="0.85" ry="2.25" fill="#b2df8a"/><ellipse transform="translate(109.31 201.18) rotate(-184.6)" rx="0.85" ry="2.25" fill="#ff8410"/><ellipse transform="translate(107.12 201.35) rotate(-184.6)" rx="0.85" ry="2.25" fill="#e5262a"/><ellipse transform="translate(104.23 201.58) rotate(-184.6)" rx="0.85" ry="2.25" fill="#2f86c6"/><ellipse transform="translate(98.34 202.06) rotate(-184.6)" rx="0.85" ry="2.25" fill="#a6cee3"/><ellipse transform="translate(134.05 209.51) rotate(-188.98)" rx="0.85" ry="2.25" fill="#cab2d6"/><ellipse transform="translate(124.57 211.01) rotate(-188.98)" rx="0.85" ry="2.25" fill="#3aaa35"/><ellipse transform="translate(116.57 212.27) rotate(-188.98)" rx="0.85" ry="2.25" fill="#b2df8a"/><ellipse transform="translate(110.05 213.3) rotate(-188.98)" rx="0.85" ry="2.25" fill="#ff8410"/><ellipse transform="translate(108.17 213.6) rotate(-188.98)" rx="0.85" ry="2.25" fill="#e5262a"/><ellipse transform="translate(105.41 214.04) rotate(-188.98)" rx="0.85" ry="2.25" fill="#2f86c6"/><ellipse transform="translate(99.18 215.02) rotate(-188.98)" rx="0.85" ry="2.25" fill="#a6cee3"/><ellipse transform="translate(133.32 220.26) rotate(-193.37)" rx="0.85" ry="2.25" fill="#cab2d6"/><ellipse transform="translate(122.42 222.85) rotate(-193.37)" rx="0.85" ry="2.25" fill="#3aaa35"/><ellipse transform="translate(114.35 224.77) rotate(-193.37)" rx="0.85" ry="2.25" fill="#b2df8a"/><ellipse transform="translate(108.12 226.25) rotate(-193.37)" rx="0.85" ry="2.25" fill="#ff8410"/><ellipse transform="translate(105.59 226.85) rotate(-193.37)" rx="0.85" ry="2.25" fill="#e5262a"/><ellipse transform="translate(103.45 227.36) rotate(-193.37)" rx="0.85" ry="2.25" fill="#2f86c6"/><ellipse transform="translate(97.62 228.75) rotate(-193.37)" rx="0.85" ry="2.25" fill="#a6cee3"/><ellipse transform="translate(123.95 234.29) rotate(-197.75)" rx="0.85" ry="2.25" fill="#3aaa35"/><ellipse transform="translate(116.33 236.73) rotate(-197.75)" rx="0.85" ry="2.25" fill="#b2df8a"/><ellipse transform="translate(109.57 238.9) rotate(-197.75)" rx="0.85" ry="2.25" fill="#ff8410"/><ellipse transform="translate(107.09 239.69) rotate(-197.75)" rx="0.85" ry="2.25" fill="#e5262a"/><ellipse transform="translate(105 240.36) rotate(-197.75)" rx="0.85" ry="2.25" fill="#2f86c6"/><ellipse transform="translate(99.19 242.22) rotate(-197.75)" rx="0.85" ry="2.25" fill="#a6cee3"/><ellipse transform="translate(128.24 244.94) rotate(-202.14)" rx="0.85" ry="2.25" fill="#3aaa35"/><ellipse transform="translate(120.46 248.11) rotate(-202.14)" rx="0.85" ry="2.25" fill="#b2df8a"/><ellipse transform="translate(114.16 250.67) rotate(-202.14)" rx="0.85" ry="2.25" fill="#ff8410"/><ellipse transform="translate(112.03 251.54) rotate(-202.14)" rx="0.85" ry="2.25" fill="#e5262a"/><ellipse transform="translate(109.62 252.52) rotate(-202.14)" rx="0.85" ry="2.25" fill="#2f86c6"/><ellipse transform="translate(103.32 255.08) rotate(-202.14)" rx="0.85" ry="2.25" fill="#a6cee3"/><ellipse transform="translate(132.69 255.52) rotate(-206.52)" rx="0.85" ry="2.25" fill="#3aaa35"/><ellipse transform="translate(125.89 258.92) rotate(-206.52)" rx="0.85" ry="2.25" fill="#b2df8a"/><ellipse transform="translate(119.45 262.13) rotate(-206.52)" rx="0.85" ry="2.25" fill="#ff8410"/><ellipse transform="translate(117.21 263.25) rotate(-206.52)" rx="0.85" ry="2.25" fill="#e5262a"/><ellipse transform="translate(115.07 264.32) rotate(-206.52)" rx="0.85" ry="2.25" fill="#2f86c6"/><ellipse transform="translate(109.88 266.91) rotate(-206.52)" rx="0.85" ry="2.25" fill="#a6cee3"/><ellipse transform="translate(148.68 259.33) rotate(-210.91)" rx="0.85" ry="2.25" fill="#3aaa35"/><ellipse transform="translate(141.39 263.69) rotate(-210.91)" rx="0.85" ry="2.25" fill="#b2df8a"/><ellipse transform="translate(135.81 267.03) rotate(-210.91)" rx="0.85" ry="2.25" fill="#ff8410"/><ellipse transform="translate(133.84 268.21) rotate(-210.91)" rx="0.85" ry="2.25" fill="#e5262a"/><ellipse transform="translate(131.95 269.34) rotate(-210.91)" rx="0.85" ry="2.25" fill="#2f86c6"/><ellipse transform="translate(126.63 272.53) rotate(-210.91)" rx="0.85" ry="2.25" fill="#a6cee3"/><ellipse transform="translate(154.52 268.11) rotate(-215.29)" rx="0.85" ry="2.25" fill="#3aaa35"/><ellipse transform="translate(148.65 272.27) rotate(-215.29)" rx="0.85" ry="2.25" fill="#b2df8a"/><ellipse transform="translate(142.28 276.78) rotate(-215.29)" rx="0.85" ry="2.25" fill="#ff8410"/><ellipse transform="translate(140.32 278.16) rotate(-215.29)" rx="0.85" ry="2.25" fill="#e5262a"/><ellipse transform="translate(138.28 279.61) rotate(-215.29)" rx="0.85" ry="2.25" fill="#2f86c6"/><ellipse transform="translate(134.03 282.61) rotate(-215.29)" rx="0.85" ry="2.25" fill="#a6cee3"/><ellipse transform="translate(160.48 276.86) rotate(-219.68)" rx="0.85" ry="2.25" fill="#3aaa35"/><ellipse transform="translate(154.24 282.03) rotate(-219.68)" rx="0.85" ry="2.25" fill="#b2df8a"/><ellipse transform="translate(149.09 286.31) rotate(-219.68)" rx="0.85" ry="2.25" fill="#ff8410"/><ellipse transform="translate(147.24 287.84) rotate(-219.68)" rx="0.85" ry="2.25" fill="#e5262a"/><ellipse transform="translate(145.47 289.31) rotate(-219.68)" rx="0.85" ry="2.25" fill="#2f86c6"/><ellipse transform="translate(140.62 293.33) rotate(-219.68)" rx="0.85" ry="2.25" fill="#a6cee3"/><ellipse transform="translate(161.51 290.59) rotate(-224.06)" rx="0.85" ry="2.25" fill="#fdbf6f"/><ellipse transform="translate(156.91 295.04) rotate(-224.06)" rx="0.85" ry="2.25" fill="#3aaa35"/><ellipse transform="translate(150.66 301.09) rotate(-224.06)" rx="0.85" ry="2.25" fill="#b2df8a"/><ellipse transform="translate(145.77 305.82) rotate(-224.06)" rx="0.85" ry="2.25" fill="#ff8410"/><ellipse transform="translate(143.69 307.83) rotate(-224.06)" rx="0.85" ry="2.25" fill="#e5262a"/><ellipse transform="translate(141.82 309.64) rotate(-224.06)" rx="0.85" ry="2.25" fill="#2f86c6"/><ellipse transform="translate(137.72 313.6) rotate(-224.06)" rx="0.85" ry="2.25" fill="#a6cee3"/><ellipse transform="translate(177.85 289.07) rotate(-228.44)" rx="0.85" ry="2.25" fill="#3aaa35"/><ellipse transform="translate(167.03 301.27) rotate(-228.44)" rx="0.85" ry="2.25" fill="#ff8410"/><ellipse transform="translate(165.38 303.14) rotate(-228.44)" rx="0.85" ry="2.25" fill="#e5262a"/><ellipse transform="translate(163.65 305.09) rotate(-228.44)" rx="0.85" ry="2.25" fill="#2f86c6"/><ellipse transform="translate(160 309.2) rotate(-228.44)" rx="0.85" ry="2.25" fill="#a6cee3"/><ellipse transform="translate(187.73 293.05) rotate(-232.83)" rx="0.85" ry="2.25" fill="#cab2d6"/><ellipse transform="translate(185.31 296.23) rotate(-232.83)" rx="0.85" ry="2.25" fill="#3aaa35"/><ellipse transform="translate(180.06 303.17) rotate(-232.83)" rx="0.85" ry="2.25" fill="#b2df8a"/><ellipse transform="translate(176.07 308.42) rotate(-232.83)" rx="0.85" ry="2.25" fill="#ff8410"/><ellipse transform="translate(174.74 310.18) rotate(-232.83)" rx="0.85" ry="2.25" fill="#e5262a"/><ellipse transform="translate(173.41 311.93) rotate(-232.83)" rx="0.85" ry="2.25" fill="#2f86c6"/><ellipse transform="translate(169.3 317.35) rotate(-232.83)" rx="0.85" ry="2.25" fill="#a6cee3"/><ellipse transform="translate(196.06 298.63) rotate(-237.21)" rx="0.85" ry="2.25" fill="#cab2d6"/><ellipse transform="translate(193.9 302) rotate(-237.21)" rx="0.85" ry="2.25" fill="#3aaa35"/><ellipse transform="translate(189.24 309.23) rotate(-237.21)" rx="0.85" ry="2.25" fill="#b2df8a"/><ellipse transform="translate(185.72 314.69) rotate(-237.21)" rx="0.85" ry="2.25" fill="#ff8410"/><ellipse transform="translate(184.37 316.79) rotate(-237.21)" rx="0.85" ry="2.25" fill="#e5262a"/><ellipse transform="translate(183.12 318.73) rotate(-237.21)" rx="0.85" ry="2.25" fill="#2f86c6"/><ellipse transform="translate(179.28 324.69) rotate(-237.21)" rx="0.85" ry="2.25" fill="#a6cee3"/><ellipse transform="translate(204.69 303.73) rotate(-241.6)" rx="0.85" ry="2.25" fill="#cab2d6"/><ellipse transform="translate(202.98 306.9) rotate(-241.6)" rx="0.85" ry="2.25" fill="#3aaa35"/><ellipse transform="translate(198.84 314.55) rotate(-241.6)" rx="0.85" ry="2.25" fill="#b2df8a"/><ellipse transform="translate(195.89 320.01) rotate(-241.6)" rx="0.85" ry="2.25" fill="#ff8410"/><ellipse transform="translate(194.89 321.85) rotate(-241.6)" rx="0.85" ry="2.25" fill="#e5262a"/><ellipse transform="translate(193.8 323.88) rotate(-241.6)" rx="0.85" ry="2.25" fill="#2f86c6"/><ellipse transform="translate(190.57 329.86) rotate(-241.6)" rx="0.85" ry="2.25" fill="#a6cee3"/><ellipse transform="translate(213.81 307.89) rotate(-245.98)" rx="0.85" ry="2.25" fill="#cab2d6"/><ellipse transform="translate(212.42 310.99) rotate(-245.98)" rx="0.85" ry="2.25" fill="#3aaa35"/><ellipse transform="translate(208.76 319.21) rotate(-245.98)" rx="0.85" ry="2.25" fill="#b2df8a"/><ellipse transform="translate(206.2 324.97) rotate(-245.98)" rx="0.85" ry="2.25" fill="#ff8410"/><ellipse transform="translate(205.3 326.98) rotate(-245.98)" rx="0.85" ry="2.25" fill="#e5262a"/><ellipse transform="translate(204.32 329.17) rotate(-245.98)" rx="0.85" ry="2.25" fill="#2f86c6"/><ellipse transform="translate(201.92 334.56) rotate(-245.98)" rx="0.85" ry="2.25" fill="#a6cee3"/><ellipse transform="translate(222.86 312.26) rotate(-250.37)" rx="0.85" ry="2.25" fill="#cab2d6"/><ellipse transform="translate(221.71 315.47) rotate(-250.37)" rx="0.85" ry="2.25" fill="#3aaa35"/><ellipse transform="translate(219.13 322.72) rotate(-250.37)" rx="0.85" ry="2.25" fill="#b2df8a"/><ellipse transform="translate(216.51 330.06) rotate(-250.37)" rx="0.85" ry="2.25" fill="#ff8410"/><ellipse transform="translate(215.77 332.14) rotate(-250.37)" rx="0.85" ry="2.25" fill="#e5262a"/><ellipse transform="translate(215.03 334.21) rotate(-250.37)" rx="0.85" ry="2.25" fill="#2f86c6"/><ellipse transform="translate(213.18 339.39) rotate(-250.37)" rx="0.85" ry="2.25" fill="#a6cee3"/><ellipse transform="translate(232.63 314.6) rotate(-254.75)" rx="0.85" ry="2.25" fill="#cab2d6"/><ellipse transform="translate(231.79 317.69) rotate(-254.75)" rx="0.85" ry="2.25" fill="#3aaa35"/><ellipse transform="translate(229.92 324.54) rotate(-254.75)" rx="0.85" ry="2.25" fill="#b2df8a"/><ellipse transform="translate(227.85 332.16) rotate(-254.75)" rx="0.85" ry="2.25" fill="#ff8410"/><ellipse transform="translate(227.29 334.19) rotate(-254.75)" rx="0.85" ry="2.25" fill="#e5262a"/><ellipse transform="translate(226.71 336.31) rotate(-254.75)" rx="0.85" ry="2.25" fill="#2f86c6"/><ellipse transform="translate(225.22 341.81) rotate(-254.75)" rx="0.85" ry="2.25" fill="#a6cee3"/><ellipse transform="translate(242.3 317.25) rotate(-259.14)" rx="0.85" ry="2.25" fill="#cab2d6"/><ellipse transform="translate(241.77 320) rotate(-259.14)" rx="0.85" ry="2.25" fill="#3aaa35"/><ellipse transform="translate(240.21 328.15) rotate(-259.14)" rx="0.85" ry="2.25" fill="#b2df8a"/><ellipse transform="translate(238.81 335.42) rotate(-259.14)" rx="0.85" ry="2.25" fill="#ff8410"/><ellipse transform="translate(238.4 337.58) rotate(-259.14)" rx="0.85" ry="2.25" fill="#e5262a"/><ellipse transform="translate(237.94 339.94) rotate(-259.14)" rx="0.85" ry="2.25" fill="#2f86c6"/><ellipse transform="translate(237.06 344.55) rotate(-259.14)" rx="0.85" ry="2.25" fill="#a6cee3"/><ellipse transform="translate(252.24 318.56) rotate(-263.52)" rx="0.85" ry="2.25" fill="#cab2d6"/><ellipse transform="translate(251.86 321.84) rotate(-263.52)" rx="0.85" ry="2.25" fill="#3aaa35"/><ellipse transform="translate(250.97 329.69) rotate(-263.52)" rx="0.85" ry="2.25" fill="#b2df8a"/><ellipse transform="translate(250.15 336.95) rotate(-263.52)" rx="0.85" ry="2.25" fill="#ff8410"/><ellipse transform="translate(249.9 339.13) rotate(-263.52)" rx="0.85" ry="2.25" fill="#e5262a"/><ellipse transform="translate(249.63 341.52) rotate(-263.52)" rx="0.85" ry="2.25" fill="#2f86c6"/><ellipse transform="translate(248.92 347.78) rotate(-263.52)" rx="0.85" ry="2.25" fill="#a6cee3"/><ellipse transform="translate(262.23 319.11) rotate(-267.91)" rx="0.85" ry="2.25" fill="#cab2d6"/><ellipse transform="translate(262.1 322.71) rotate(-267.91)" rx="0.85" ry="2.25" fill="#3aaa35"/><ellipse transform="translate(261.82 330.41) rotate(-267.91)" rx="0.85" ry="2.25" fill="#b2df8a"/><ellipse transform="translate(261.57 337.3) rotate(-267.91)" rx="0.85" ry="2.25" fill="#ff8410"/><ellipse transform="translate(261.49 339.5) rotate(-267.91)" rx="0.85" ry="2.25" fill="#e5262a"/><ellipse transform="translate(261.39 342.2) rotate(-267.91)" rx="0.85" ry="2.25" fill="#2f86c6"/><ellipse transform="translate(261.17 348.19) rotate(-267.91)" rx="0.85" ry="2.25" fill="#a6cee3"/><ellipse transform="translate(272.23 319.1) rotate(-272.29)" rx="0.85" ry="2.25" fill="#cab2d6"/><ellipse transform="translate(272.38 322.69) rotate(-272.29)" rx="0.85" ry="2.25" fill="#3aaa35"/><ellipse transform="translate(272.7 330.89) rotate(-272.29)" rx="0.85" ry="2.25" fill="#b2df8a"/><ellipse transform="translate(272.98 337.68) rotate(-272.29)" rx="0.85" ry="2.25" fill="#ff8410"/><ellipse transform="translate(273.06 339.68) rotate(-272.29)" rx="0.85" ry="2.25" fill="#e5262a"/><ellipse transform="translate(273.16 342.18) rotate(-272.29)" rx="0.85" ry="2.25" fill="#2f86c6"/><ellipse transform="translate(273.41 348.57) rotate(-272.29)" rx="0.85" ry="2.25" fill="#a6cee3"/><ellipse transform="translate(284.47 337.68) rotate(-276.68)" rx="0.85" ry="2.25" fill="#3aaa35"/><ellipse transform="translate(285.27 344.53) rotate(-276.68)" rx="0.85" ry="2.25" fill="#b2df8a"/><ellipse transform="translate(286.17 352.18) rotate(-276.68)" rx="0.85" ry="2.25" fill="#ff8410"/><ellipse transform="translate(286.45 354.57) rotate(-276.68)" rx="0.85" ry="2.25" fill="#e5262a"/><ellipse transform="translate(286.76 357.25) rotate(-276.68)" rx="0.85" ry="2.25" fill="#2f86c6"/><ellipse transform="translate(287.4 362.71) rotate(-276.68)" rx="0.85" ry="2.25" fill="#a6cee3"/><ellipse transform="translate(292.18 317.26) rotate(-281.06)" rx="0.85" ry="2.25" fill="#3aaa35"/><ellipse transform="translate(293.77 325.41) rotate(-281.06)" rx="0.85" ry="2.25" fill="#b2df8a"/><ellipse transform="translate(295.09 332.18) rotate(-281.06)" rx="0.85" ry="2.25" fill="#ff8410"/><ellipse transform="translate(295.48 334.14) rotate(-281.06)" rx="0.85" ry="2.25" fill="#e5262a"/><ellipse transform="translate(295.98 336.69) rotate(-281.06)" rx="0.85" ry="2.25" fill="#2f86c6"/><ellipse transform="translate(297.15 342.68) rotate(-281.06)" rx="0.85" ry="2.25" fill="#a6cee3"/><ellipse transform="translate(301.84 314.57) rotate(-285.45)" rx="0.85" ry="2.25" fill="#cab2d6"/><ellipse transform="translate(302.59 317.27) rotate(-285.45)" rx="0.85" ry="2.25" fill="#3aaa35"/><ellipse transform="translate(304.59 324.5) rotate(-285.45)" rx="0.85" ry="2.25" fill="#b2df8a"/><ellipse transform="translate(306.58 331.73) rotate(-285.45)" rx="0.85" ry="2.25" fill="#ff8410"/><ellipse transform="translate(307.09 333.56) rotate(-285.45)" rx="0.85" ry="2.25" fill="#e5262a"/><ellipse transform="translate(307.75 335.97) rotate(-285.45)" rx="0.85" ry="2.25" fill="#2f86c6"/><ellipse transform="translate(309.35 341.76) rotate(-285.45)" rx="0.85" ry="2.25" fill="#a6cee3"/><ellipse transform="translate(311.82 312.76) rotate(-289.83)" rx="0.85" ry="2.25" fill="#3aaa35"/><ellipse transform="translate(314.43 320.01) rotate(-289.83)" rx="0.85" ry="2.25" fill="#b2df8a"/><ellipse transform="translate(317.08 327.34) rotate(-289.83)" rx="0.85" ry="2.25" fill="#ff8410"/><ellipse transform="translate(317.83 329.41) rotate(-289.83)" rx="0.85" ry="2.25" fill="#e5262a"/><ellipse transform="translate(318.67 331.77) rotate(-289.83)" rx="0.85" ry="2.25" fill="#2f86c6"/><ellipse transform="translate(320.81 337.69) rotate(-289.83)" rx="0.85" ry="2.25" fill="#a6cee3"/><ellipse transform="translate(320.86 308.24) rotate(-294.22)" rx="0.85" ry="2.25" fill="#3aaa35"/><ellipse transform="translate(324.1 315.45) rotate(-294.22)" rx="0.85" ry="2.25" fill="#b2df8a"/><ellipse transform="translate(327.34 322.65) rotate(-294.22)" rx="0.85" ry="2.25" fill="#ff8410"/><ellipse transform="translate(328.2 324.57) rotate(-294.22)" rx="0.85" ry="2.25" fill="#e5262a"/><ellipse transform="translate(329.23 326.85) rotate(-294.22)" rx="0.85" ry="2.25" fill="#2f86c6"/><ellipse transform="translate(331.85 332.69) rotate(-294.22)" rx="0.85" ry="2.25" fill="#a6cee3"/><ellipse transform="translate(329.38 302.9) rotate(-298.6)" rx="0.85" ry="2.25" fill="#cab2d6"/><ellipse transform="translate(331.77 307.29) rotate(-298.6)" rx="0.85" ry="2.25" fill="#3aaa35"/><ellipse transform="translate(335.27 313.7) rotate(-298.6)" rx="0.85" ry="2.25" fill="#b2df8a"/><ellipse transform="translate(338.57 319.75) rotate(-298.6)" rx="0.85" ry="2.25" fill="#ff8410"/><ellipse transform="translate(339.39 321.25) rotate(-298.6)" rx="0.85" ry="2.25" fill="#e5262a"/><ellipse transform="translate(340.3 322.92) rotate(-298.6)" rx="0.85" ry="2.25" fill="#2f86c6"/><ellipse transform="translate(343.89 329.5) rotate(-298.6)" rx="0.85" ry="2.25" fill="#a6cee3"/><ellipse transform="translate(338.22 298.21) rotate(-302.99)" rx="0.85" ry="2.25" fill="#cab2d6"/><ellipse transform="translate(340.77 302.16) rotate(-302.99)" rx="0.85" ry="2.25" fill="#3aaa35"/><ellipse transform="translate(345.73 309.79) rotate(-302.99)" rx="0.85" ry="2.25" fill="#b2df8a"/><ellipse transform="translate(348.89 314.65) rotate(-302.99)" rx="0.85" ry="2.25" fill="#ff8410"/><ellipse transform="translate(350.09 316.5) rotate(-302.99)" rx="0.85" ry="2.25" fill="#e5262a"/><ellipse transform="translate(351.28 318.34) rotate(-302.99)" rx="0.85" ry="2.25" fill="#2f86c6"/><ellipse transform="translate(355.2 324.38) rotate(-302.99)" rx="0.85" ry="2.25" fill="#a6cee3"/><ellipse transform="translate(346.52 292.61) rotate(-307.37)" rx="0.85" ry="2.25" fill="#cab2d6"/><ellipse transform="translate(349.49 296.5) rotate(-307.37)" rx="0.85" ry="2.25" fill="#3aaa35"/><ellipse transform="translate(357.87 307.47) rotate(-307.37)" rx="0.85" ry="2.25" fill="#ff8410"/><ellipse transform="translate(359.26 309.29) rotate(-307.37)" rx="0.85" ry="2.25" fill="#e5262a"/><ellipse transform="translate(360.66 311.12) rotate(-307.37)" rx="0.85" ry="2.25" fill="#2f86c6"/><ellipse transform="translate(364.61 316.29) rotate(-307.37)" rx="0.85" ry="2.25" fill="#a6cee3"/><ellipse transform="translate(354.44 286.45) rotate(-311.76)" rx="0.85" ry="2.25" fill="#3aaa35"/><ellipse transform="translate(360.04 292.71) rotate(-311.76)" rx="0.85" ry="2.25" fill="#b2df8a"/><ellipse transform="translate(364.5 297.71) rotate(-311.76)" rx="0.85" ry="2.25" fill="#ff8410"/><ellipse transform="translate(365.77 299.13) rotate(-311.76)" rx="0.85" ry="2.25" fill="#e5262a"/><ellipse transform="translate(367.16 300.69) rotate(-311.76)" rx="0.85" ry="2.25" fill="#2f86c6"/><ellipse transform="translate(371.43 305.47) rotate(-311.76)" rx="0.85" ry="2.25" fill="#a6cee3"/><ellipse transform="translate(361.1 278.92) rotate(-316.14)" rx="0.85" ry="2.25" fill="#3aaa35"/><ellipse transform="translate(368.02 285.57) rotate(-316.14)" rx="0.85" ry="2.25" fill="#3aaa35"/><ellipse transform="translate(379.34 296.45) rotate(-316.14)" rx="0.85" ry="2.25" fill="#ff8410"/><ellipse transform="translate(380.86 297.9) rotate(-316.14)" rx="0.85" ry="2.25" fill="#e5262a"/><ellipse transform="translate(382.59 299.57) rotate(-316.14)" rx="0.85" ry="2.25" fill="#2f86c6"/><ellipse transform="translate(387.27 304.07) rotate(-316.14)" rx="0.85" ry="2.25" fill="#a6cee3"/><ellipse transform="translate(368.35 271.97) rotate(-320.53)" rx="0.85" ry="2.25" fill="#3aaa35"/><ellipse transform="translate(381.17 282.52) rotate(-320.53)" rx="0.85" ry="2.25" fill="#ff8410"/><ellipse transform="translate(382.64 283.73) rotate(-320.53)" rx="0.85" ry="2.25" fill="#e5262a"/><ellipse transform="translate(384.41 285.19) rotate(-320.53)" rx="0.85" ry="2.25" fill="#2f86c6"/><ellipse transform="translate(389.12 289.07) rotate(-320.53)" rx="0.85" ry="2.25" fill="#a6cee3"/><ellipse transform="translate(374.19 263.8) rotate(-324.91)" rx="0.85" ry="2.25" fill="#3aaa35"/><ellipse transform="translate(388.02 273.52) rotate(-324.91)" rx="0.85" ry="2.25" fill="#ff8410"/><ellipse transform="translate(389.9 274.84) rotate(-324.91)" rx="0.85" ry="2.25" fill="#e5262a"/><ellipse transform="translate(391.95 276.28) rotate(-324.91)" rx="0.85" ry="2.25" fill="#2f86c6"/><ellipse transform="translate(396.37 279.38) rotate(-324.91)" rx="0.85" ry="2.25" fill="#a6cee3"/><ellipse transform="translate(379.9 255.54) rotate(-329.3)" rx="0.85" ry="2.25" fill="#3aaa35"/><ellipse transform="translate(392.54 263.04) rotate(-329.3)" rx="0.85" ry="2.25" fill="#ff8410"/><ellipse transform="translate(394.86 264.42) rotate(-329.3)" rx="0.85" ry="2.25" fill="#e5262a"/><ellipse transform="translate(396.92 265.65) rotate(-329.3)" rx="0.85" ry="2.25" fill="#2f86c6"/><ellipse transform="translate(386.04 247.38) rotate(-333.68)" rx="0.85" ry="2.25" fill="#3aaa35"/><ellipse transform="translate(399.57 254.07) rotate(-333.68)" rx="0.85" ry="2.25" fill="#ff8410"/><ellipse transform="translate(402.89 255.71) rotate(-333.68)" rx="0.85" ry="2.25" fill="#e5262a"/><ellipse transform="translate(405.22 256.86) rotate(-333.68)" rx="0.85" ry="2.25" fill="#2f86c6"/><ellipse transform="translate(410.86 259.66) rotate(-333.68)" rx="0.85" ry="2.25" fill="#a6cee3"/><ellipse transform="translate(390 238.03) rotate(-338.07)" rx="0.85" ry="2.25" fill="#3aaa35"/><ellipse transform="translate(403.55 243.48) rotate(-338.07)" rx="0.85" ry="2.25" fill="#ff8410"/><ellipse transform="translate(407.07 244.9) rotate(-338.07)" rx="0.85" ry="2.25" fill="#e5262a"/><ellipse transform="translate(409.67 245.95) rotate(-338.07)" rx="0.85" ry="2.25" fill="#2f86c6"/><ellipse transform="translate(415.61 248.34) rotate(-338.07)" rx="0.85" ry="2.25" fill="#a6cee3"/><ellipse transform="translate(392 228.03) rotate(-342.45)" rx="0.85" ry="2.25" fill="#3aaa35"/><ellipse transform="translate(404.01 231.83) rotate(-342.45)" rx="0.85" ry="2.25" fill="#ff8410"/><ellipse transform="translate(408.02 233.09) rotate(-342.45)" rx="0.85" ry="2.25" fill="#e5262a"/><ellipse transform="translate(410.4 233.85) rotate(-342.45)" rx="0.85" ry="2.25" fill="#2f86c6"/><ellipse transform="translate(416.98 235.93) rotate(-342.45)" rx="0.85" ry="2.25" fill="#a6cee3"/><ellipse transform="translate(423.96 225.21) rotate(-346.84)" rx="0.85" ry="2.25" fill="#3aaa35"/><ellipse transform="translate(431.95 227.08) rotate(-346.84)" rx="0.85" ry="2.25" fill="#b2df8a"/><ellipse transform="translate(437.89 228.47) rotate(-346.84)" rx="0.85" ry="2.25" fill="#ff8410"/><ellipse transform="translate(441 229.19) rotate(-346.84)" rx="0.85" ry="2.25" fill="#e5262a"/><ellipse transform="translate(443.54 229.79) rotate(-346.84)" rx="0.85" ry="2.25" fill="#2f86c6"/><ellipse transform="translate(448.99 231.06) rotate(-346.84)" rx="0.85" ry="2.25" fill="#a6cee3"/><ellipse transform="translate(421.07 212.29) rotate(-351.22)" rx="0.85" ry="2.25" fill="#3aaa35"/><ellipse transform="translate(427.6 213.3) rotate(-351.22)" rx="0.85" ry="2.25" fill="#fb9a99"/><ellipse transform="translate(439.65 215.16) rotate(-351.22)" rx="0.85" ry="2.25" fill="#7440ae"/><ellipse transform="translate(446.47 216.21) rotate(-351.22)" rx="0.85" ry="2.25" fill="#2f86c6"/><ellipse transform="translate(452.01 217.07) rotate(-351.22)" rx="0.85" ry="2.25" fill="#a6cee3"/><ellipse transform="translate(425.03 200.64) rotate(-355.61)" rx="0.85" ry="2.25" fill="#3aaa35"/><ellipse transform="translate(432.01 201.18) rotate(-355.61)" rx="0.85" ry="2.25" fill="#fb9a99"/><ellipse transform="translate(437 201.56) rotate(-355.61)" rx="0.85" ry="2.25" fill="#7440ae"/><ellipse transform="translate(443.58 202.07) rotate(-355.61)" rx="0.85" ry="2.25" fill="#2f86c6"/><ellipse transform="translate(449.96 202.56) rotate(-355.61)" rx="0.85" ry="2.25" fill="#a6cee3"/>
<text transform="translate(394.15 173.79) rotate(-5)" font-family='"Liberation Serif", serif' font-size="8.4" text-anchor="middle" fill="#222" y="2.8">0</text>
<text transform="translate(409.85 171.97) rotate(-5)" font-family='"Liberation Serif", serif' font-size="8.4" text-anchor="middle" fill="#222" y="2.8">150</text>
<text transform="translate(425.44 170.17) rotate(-5)" font-family='"Liberation Serif", serif' font-size="8.4" text-anchor="middle" fill="#222" y="2.8">300</text>
<text transform="translate(441.34 168.33) rotate(-5)" font-family='"Liberation Serif", serif' font-size="8.4" text-anchor="middle" fill="#222" y="2.8">450</text>
<text transform="translate(456.24 166.6) rotate(-5)" font-family='"Liberation Serif", serif' font-size="8.4" text-anchor="middle" fill="#222" y="2.8">600</text>
</g>
<g id="legends" font-family='"Liberation Serif", serif' fill="#111">
<text x="8" y="14.5" font-size="11.5">(a)</text>
<text x="24.3" y="41" font-size="11.6" font-weight="bold">Species</text>
<circle cx="32" cy="52" r="3.9" fill="#9ad84f"/>
<text x="39.5" y="54.6" font-size="7.8" font-style="italic" fill="#333">C.sinensis</text>
<circle cx="32" cy="64.05" r="3.9" fill="#7ecfc0"/>
<text x="39.5" y="66.65" font-size="7.8" font-style="italic" fill="#333">A.thaliana</text>
<circle cx="32" cy="76.1" r="3.9" fill="#6fa8d8"/>
<text x="39.5" y="78.7" font-size="7.8" font-style="italic" fill="#333">O.sativa</text>
<circle cx="32" cy="88.15" r="3.9" fill="#d6d6d6"/>
<text x="39.5" y="90.75" font-size="7.8" font-style="italic" fill="#333">Z.mays</text>
<circle cx="32" cy="100.2" r="3.9" fill="#b7b1de"/>
<text x="39.5" y="102.8" font-size="7.8" font-style="italic" fill="#333">A.trichopoda</text>
<circle cx="32" cy="112.25" r="3.9" fill="#fff9a6"/>
<text x="39.5" y="114.85" font-size="7.8" font-style="italic" fill="#333">S.moellendorffii</text>
<circle cx="32" cy="124.3" r="3.9" fill="#f96f5d"/>
<text x="39.5" y="126.9" font-size="7.8" font-style="italic" fill="#333">P.abies</text>
<circle cx="32" cy="136.35" r="3.9" fill="#fba04a"/>
<text x="39.5" y="138.95" font-size="7.8" font-style="italic" fill="#333">P.patens</text>
<circle cx="32" cy="148.4" r="3.9" fill="#f7c3e2"/>
<text x="39.5" y="151" font-size="7.8" font-style="italic" fill="#333">O.tauri</text>
<text x="24.3" y="235.6" font-size="11.6" font-weight="bold">Motifs</text>
<rect x="29" y="243.5" width="14.6" height="7.4" rx="3" fill="#a6cee3" fill-opacity="0.85"/>
<text x="48" y="249.8" font-size="7.75" fill="#333">motif 1</text>
<rect x="29" y="254.25" width="14.6" height="7.4" rx="3" fill="#2f86c6" fill-opacity="0.85"/>
<text x="48" y="260.55" font-size="7.75" fill="#333">motif 2</text>
<rect x="29" y="265" width="14.6" height="7.4" rx="3" fill="#b2df8a" fill-opacity="0.85"/>
<text x="48" y="271.3" font-size="7.75" fill="#333">motif 3</text>
<rect x="29" y="275.75" width="14.6" height="7.4" rx="3" fill="#3aaa35" fill-opacity="0.85"/>
<text x="48" y="282.05" font-size="7.75" fill="#333">motif 4</text>
<rect x="29" y="286.5" width="14.6" height="7.4" rx="3" fill="#fb9a99" fill-opacity="0.85"/>
<text x="48" y="292.8" font-size="7.75" fill="#333">motif 5</text>
<rect x="29" y="297.25" width="14.6" height="7.4" rx="3" fill="#e5262a" fill-opacity="0.85"/>
<text x="48" y="303.55" font-size="7.75" fill="#333">motif 6</text>
<rect x="29" y="308" width="14.6" height="7.4" rx="3" fill="#fdbf6f" fill-opacity="0.85"/>
<text x="48" y="314.3" font-size="7.75" fill="#333">motif 7</text>
<rect x="29" y="318.75" width="14.6" height="7.4" rx="3" fill="#ff8410" fill-opacity="0.85"/>
<text x="48" y="325.05" font-size="7.75" fill="#333">motif 8</text>
<rect x="29" y="329.5" width="14.6" height="7.4" rx="3" fill="#cab2d6" fill-opacity="0.85"/>
<text x="48" y="335.8" font-size="7.75" fill="#333">motif 9</text>
<rect x="29" y="340.25" width="14.6" height="7.4" rx="3" fill="#7440ae" fill-opacity="0.85"/>
<text x="48" y="346.55" font-size="7.75" fill="#333">motif 10</text>
<text x="452.3" y="38.5" font-size="11.6" font-weight="bold">Species</text>
<rect x="454" y="48" width="14.6" height="7.4" rx="2.6" fill="#2b2b2b"/>
<text x="474" y="54.2" font-size="8" fill="#333">Complete</text>
<rect x="454" y="59.4" width="14.6" height="7.4" rx="2.6" fill="#d0d0d0"/>
<text x="474" y="65.4" font-size="8" fill="#333">Partial</text>
<text x="462.3" y="233.4" font-size="10.9" font-weight="bold" textLength="51" lengthAdjust="spacingAndGlyphs">Duplication</text>
<path d="M458 249.1L463.2 258.3Q458 260.3 452.8 258.3Z" fill="#22bb22"/>
<text x="471" y="253.3" font-size="7.7" fill="#333">Singleton</text>
<path d="M458 265.7L463.2 274.9Q458 276.9 452.8 274.9Z" fill="#1212f5"/>
<text x="471" y="270.35" font-size="7.7" fill="#333">Dispersed</text>
<path d="M458 282.3L463.2 291.5Q458 293.5 452.8 291.5Z" fill="#ff22ff"/>
<text x="471" y="287.4" font-size="7.7" fill="#333">Proximal</text>
<path d="M458 298.9L463.2 308.1Q458 310.1 452.8 308.1Z" fill="#ffa412"/>
<text x="471" y="304.45" font-size="7.7" fill="#333">Tandem</text>
<path d="M458 315.5L463.2 324.7Q458 326.7 452.8 324.7Z" fill="#d7061c"/>
<text x="471" y="321.5" font-size="7.7" fill="#333">WGD/segmental</text>
</g>
<g id="partb" font-family='"Liberation Serif", serif' fill="#111">
<text x="8" y="380" font-size="11.5">(b)</text>
<path d="M13.5 494.12V527.76H172M13.5 494.12H33.8M33.8 476.15V510.79H172M33.8 476.15H54.2M54.2 458.48V494.12H172M54.2 458.48H74.6M74.6 439.91V476.85H172M74.6 439.91H94.8M94.8 418.45V459.88H172M94.8 418.45H115.2M115.2 400.49V434.43M115.2 400.49H155.2M115.2 434.43H155.2M172 392H155.2V408.97H172M172 425.94H155.2V442.91H172" fill="none" stroke="#222" stroke-width="0.9"/>
<text x="16.5" y="524.8" font-size="9.6" fill="#2e86c9">Chlorophyta</text>
<text x="37" y="507.6" font-size="9.6" fill="#2e86c9">Bryophyta</text>
<text x="58" y="490.5" font-size="9.6" fill="#2e86c9">Lycopodiophyta</text>
<text x="78" y="473.2" font-size="9.6" fill="#2e86c9">Gymnospermae</text>
<text x="98" y="456.2" font-size="9.6" fill="#2e86c9">Basal angiosperm</text>
<text x="118.5" y="430.8" font-size="9.6" fill="#2e86c9">Monocot</text>
<text x="117.2" y="397.4" font-size="9.6" fill="#2e86c9">Eudicot</text>
<text x="179" y="394.8" font-size="9.5" font-weight="bold" font-style="italic">C.sinensis</text>
<text x="179" y="411.77" font-size="9.5" font-weight="bold" font-style="italic">A.thaliana</text>
<text x="179" y="428.74" font-size="9.5" font-weight="bold" font-style="italic">O.sativa</text>
<text x="179" y="445.71" font-size="9.5" font-weight="bold" font-style="italic">Z.mays</text>
<text x="179" y="462.68" font-size="9.5" font-weight="bold" font-style="italic">A.trichopoda</text>
<text x="179" y="479.65" font-size="9.5" font-weight="bold" font-style="italic">P.abies</text>
<text x="179" y="496.62" font-size="9.5" font-weight="bold" font-style="italic">S.moellendorffii</text>
<text x="179" y="513.59" font-size="9.5" font-weight="bold" font-style="italic">P.patens</text>
<text x="179" y="530.56" font-size="9.5" font-weight="bold" font-style="italic">O.tauri</text>
<path d="M14.8 484.6L103.5 399.3" stroke="#111" stroke-width="1" fill="none"/>
<path d="M106 397L98.2 400L102.6 404.6Z" fill="#111"/>
<text transform="translate(19.5 471.5) rotate(-44)" font-size="9.6" fill="#e8262a" text-anchor="middle">Low</text>
<text transform="translate(84.5 409) rotate(-44)" font-size="9.6" fill="#e8262a" text-anchor="middle">High</text>
<rect x="249.3" y="386.9" width="18.8" height="10.2" rx="2.6" fill="#d5e6f2"/>
<text transform="translate(258.7 395.6) scale(0.86 1)" font-size="10.7" text-anchor="middle" fill="#1a1a1a">M1</text>
<rect x="271.27" y="386.9" width="18.8" height="10.2" rx="2.6" fill="#9dc3e2"/>
<text transform="translate(280.67 395.6) scale(0.86 1)" font-size="10.7" text-anchor="middle" fill="#1a1a1a">M2</text>
<rect x="293.24" y="386.3" width="18.8" height="10.2" rx="2.6" fill="#dbf0cd"/>
<text transform="translate(302.64 395.1) scale(0.9 1)" font-size="11.3" font-weight="bold" text-anchor="middle">X</text>
<rect x="315.21" y="386.9" width="18.8" height="10.2" rx="2.6" fill="#a2d69a"/>
<text transform="translate(324.61 395.6) scale(0.86 1)" font-size="10.7" text-anchor="middle" fill="#1a1a1a">M4</text>
<rect x="337.18" y="386.3" width="18.8" height="10.2" rx="2.6" fill="#fad0d0"/>
<text transform="translate(346.58 395.1) scale(0.9 1)" font-size="11.3" font-weight="bold" text-anchor="middle">X</text>
<rect x="359.15" y="386.3" width="18.8" height="10.2" rx="2.6" fill="#ef999c"/>
<text transform="translate(368.55 395.1) scale(0.9 1)" font-size="11.3" font-weight="bold" text-anchor="middle">X</text>
<rect x="381.12" y="386.3" width="18.8" height="10.2" rx="2.6" fill="#fde3c4"/>
<text transform="translate(390.52 395.1) scale(0.9 1)" font-size="11.3" font-weight="bold" text-anchor="middle">X</text>
<rect x="403.09" y="386.3" width="18.8" height="10.2" rx="2.6" fill="#fcbf84"/>
<text transform="translate(412.49 395.1) scale(0.9 1)" font-size="11.3" font-weight="bold" text-anchor="middle">X</text>
<rect x="425.06" y="386.3" width="18.8" height="10.2" rx="2.6" fill="#e6deef"/>
<text transform="translate(434.46 395.1) scale(0.9 1)" font-size="11.3" font-weight="bold" text-anchor="middle">X</text>
<rect x="447.03" y="386.3" width="18.8" height="10.2" rx="2.6" fill="#b9a5d7"/>
<text transform="translate(456.43 395.1) scale(0.9 1)" font-size="11.3" font-weight="bold" text-anchor="middle">X</text>
<rect x="249.3" y="403.87" width="18.8" height="10.2" rx="2.6" fill="#d5e6f2"/>
<text transform="translate(258.7 412.57) scale(0.86 1)" font-size="10.7" text-anchor="middle" fill="#1a1a1a">M1</text>
<rect x="271.27" y="403.87" width="18.8" height="10.2" rx="2.6" fill="#9dc3e2"/>
<text transform="translate(280.67 412.57) scale(0.86 1)" font-size="10.7" text-anchor="middle" fill="#1a1a1a">M2</text>
<rect x="293.24" y="403.27" width="18.8" height="10.2" rx="2.6" fill="#dbf0cd"/>
<text transform="translate(302.64 412.07) scale(0.9 1)" font-size="11.3" font-weight="bold" text-anchor="middle">X</text>
<rect x="315.21" y="403.87" width="18.8" height="10.2" rx="2.6" fill="#a2d69a"/>
<text transform="translate(324.61 412.57) scale(0.86 1)" font-size="10.7" text-anchor="middle" fill="#1a1a1a">M4</text>
<rect x="337.18" y="403.27" width="18.8" height="10.2" rx="2.6" fill="#fad0d0"/>
<text transform="translate(346.58 412.07) scale(0.9 1)" font-size="11.3" font-weight="bold" text-anchor="middle">X</text>
<rect x="359.15" y="403.27" width="18.8" height="10.2" rx="2.6" fill="#ef999c"/>
<text transform="translate(368.55 412.07) scale(0.9 1)" font-size="11.3" font-weight="bold" text-anchor="middle">X</text>
<rect x="381.12" y="403.27" width="18.8" height="10.2" rx="2.6" fill="#fde3c4"/>
<text transform="translate(390.52 412.07) scale(0.9 1)" font-size="11.3" font-weight="bold" text-anchor="middle">X</text>
<rect x="403.09" y="403.27" width="18.8" height="10.2" rx="2.6" fill="#fcbf84"/>
<text transform="translate(412.49 412.07) scale(0.9 1)" font-size="11.3" font-weight="bold" text-anchor="middle">X</text>
<rect x="425.06" y="403.27" width="18.8" height="10.2" rx="2.6" fill="#e6deef"/>
<text transform="translate(434.46 412.07) scale(0.9 1)" font-size="11.3" font-weight="bold" text-anchor="middle">X</text>
<rect x="447.03" y="403.27" width="18.8" height="10.2" rx="2.6" fill="#b9a5d7"/>
<text transform="translate(456.43 412.07) scale(0.9 1)" font-size="11.3" font-weight="bold" text-anchor="middle">X</text>
<rect x="249.3" y="420.84" width="18.8" height="10.2" rx="2.6" fill="#d5e6f2"/>
<text transform="translate(258.7 429.54) scale(0.86 1)" font-size="10.7" text-anchor="middle" fill="#1a1a1a">M1</text>
<rect x="271.27" y="420.84" width="18.8" height="10.2" rx="2.6" fill="#9dc3e2"/>
<text transform="translate(280.67 429.54) scale(0.86 1)" font-size="10.7" text-anchor="middle" fill="#1a1a1a">M2</text>
<rect x="293.24" y="420.24" width="18.8" height="10.2" rx="2.6" fill="#dbf0cd"/>
<text transform="translate(302.64 429.04) scale(0.9 1)" font-size="11.3" font-weight="bold" text-anchor="middle">X</text>
<rect x="315.21" y="420.84" width="18.8" height="10.2" rx="2.6" fill="#a2d69a"/>
<text transform="translate(324.61 429.54) scale(0.86 1)" font-size="10.7" text-anchor="middle" fill="#1a1a1a">M4</text>
<rect x="337.18" y="420.24" width="18.8" height="10.2" rx="2.6" fill="#fad0d0"/>
<text transform="translate(346.58 429.04) scale(0.9 1)" font-size="11.3" font-weight="bold" text-anchor="middle">X</text>
<rect x="359.15" y="420.24" width="18.8" height="10.2" rx="2.6" fill="#ef999c"/>
<text transform="translate(368.55 429.04) scale(0.9 1)" font-size="11.3" font-weight="bold" text-anchor="middle">X</text>
<rect x="381.12" y="420.24" width="18.8" height="10.2" rx="2.6" fill="#fde3c4"/>
<text transform="translate(390.52 429.04) scale(0.9 1)" font-size="11.3" font-weight="bold" text-anchor="middle">X</text>
<rect x="403.09" y="420.24" width="18.8" height="10.2" rx="2.6" fill="#fcbf84"/>
<text transform="translate(412.49 429.04) scale(0.9 1)" font-size="11.3" font-weight="bold" text-anchor="middle">X</text>
<rect x="425.06" y="420.84" width="18.8" height="10.2" rx="2.6" fill="#e6deef"/>
<text transform="translate(434.46 429.54) scale(0.86 1)" font-size="10.7" text-anchor="middle" fill="#1a1a1a">M9</text>
<rect x="447.03" y="420.24" width="18.8" height="10.2" rx="2.6" fill="#b9a5d7"/>
<text transform="translate(456.43 429.04) scale(0.9 1)" font-size="11.3" font-weight="bold" text-anchor="middle">X</text>
<rect x="249.3" y="437.81" width="18.8" height="10.2" rx="2.6" fill="#d5e6f2"/>
<text transform="translate(258.7 446.51) scale(0.86 1)" font-size="10.7" text-anchor="middle" fill="#1a1a1a">M1</text>
<rect x="271.27" y="437.81" width="18.8" height="10.2" rx="2.6" fill="#9dc3e2"/>
<text transform="translate(280.67 446.51) scale(0.86 1)" font-size="10.7" text-anchor="middle" fill="#1a1a1a">M2</text>
<rect x="293.24" y="437.21" width="18.8" height="10.2" rx="2.6" fill="#dbf0cd"/>
<text transform="translate(302.64 446.01) scale(0.9 1)" font-size="11.3" font-weight="bold" text-anchor="middle">X</text>
<rect x="315.21" y="437.81" width="18.8" height="10.2" rx="2.6" fill="#a2d69a"/>
<text transform="translate(324.61 446.51) scale(0.86 1)" font-size="10.7" text-anchor="middle" fill="#1a1a1a">M4</text>
<rect x="337.18" y="437.21" width="18.8" height="10.2" rx="2.6" fill="#fad0d0"/>
<text transform="translate(346.58 446.01) scale(0.9 1)" font-size="11.3" font-weight="bold" text-anchor="middle">X</text>
<rect x="359.15" y="437.21" width="18.8" height="10.2" rx="2.6" fill="#ef999c"/>
<text transform="translate(368.55 446.01) scale(0.9 1)" font-size="11.3" font-weight="bold" text-anchor="middle">X</text>
<rect x="381.12" y="437.81" width="18.8" height="10.2" rx="2.6" fill="#fde3c4"/>
<text transform="translate(390.52 446.51) scale(0.86 1)" font-size="10.7" text-anchor="middle" fill="#1a1a1a">M7</text>
<rect x="403.09" y="437.81" width="18.8" height="10.2" rx="2.6" fill="#fcbf84"/>
<text transform="translate(412.49 446.51) scale(0.86 1)" font-size="10.7" text-anchor="middle" fill="#1a1a1a">M8</text>
<rect x="425.06" y="437.81" width="18.8" height="10.2" rx="2.6" fill="#e6deef"/>
<text transform="translate(434.46 446.51) scale(0.86 1)" font-size="10.7" text-anchor="middle" fill="#1a1a1a">M9</text>
<rect x="447.03" y="437.21" width="18.8" height="10.2" rx="2.6" fill="#b9a5d7"/>
<text transform="translate(456.43 446.01) scale(0.9 1)" font-size="11.3" font-weight="bold" text-anchor="middle">X</text>
<rect x="249.3" y="454.18" width="18.8" height="10.2" rx="2.6" fill="#d5e6f2"/>
<text transform="translate(258.7 462.98) scale(0.9 1)" font-size="11.3" font-weight="bold" text-anchor="middle">X</text>
<rect x="271.27" y="454.78" width="18.8" height="10.2" rx="2.6" fill="#9dc3e2"/>
<text transform="translate(280.67 463.48) scale(0.86 1)" font-size="10.7" text-anchor="middle" fill="#1a1a1a">M2</text>
<rect x="293.24" y="454.18" width="18.8" height="10.2" rx="2.6" fill="#dbf0cd"/>
<text transform="translate(302.64 462.98) scale(0.9 1)" font-size="11.3" font-weight="bold" text-anchor="middle">X</text>
<rect x="315.21" y="454.78" width="18.8" height="10.2" rx="2.6" fill="#a2d69a"/>
<text transform="translate(324.61 463.48) scale(0.86 1)" font-size="10.7" text-anchor="middle" fill="#1a1a1a">M4</text>
<rect x="337.18" y="454.18" width="18.8" height="10.2" rx="2.6" fill="#fad0d0"/>
<text transform="translate(346.58 462.98) scale(0.9 1)" font-size="11.3" font-weight="bold" text-anchor="middle">X</text>
<rect x="359.15" y="454.18" width="18.8" height="10.2" rx="2.6" fill="#ef999c"/>
<text transform="translate(368.55 462.98) scale(0.9 1)" font-size="11.3" font-weight="bold" text-anchor="middle">X</text>
<rect x="381.12" y="454.18" width="18.8" height="10.2" rx="2.6" fill="#fde3c4"/>
<text transform="translate(390.52 462.98) scale(0.9 1)" font-size="11.3" font-weight="bold" text-anchor="middle">X</text>
<rect x="403.09" y="454.18" width="18.8" height="10.2" rx="2.6" fill="#fcbf84"/>
<text transform="translate(412.49 462.98) scale(0.9 1)" font-size="11.3" font-weight="bold" text-anchor="middle">X</text>
<rect x="425.06" y="454.18" width="18.8" height="10.2" rx="2.6" fill="#e6deef"/>
<text transform="translate(434.46 462.98) scale(0.9 1)" font-size="11.3" font-weight="bold" text-anchor="middle">X</text>
<rect x="447.03" y="454.18" width="18.8" height="10.2" rx="2.6" fill="#b9a5d7"/>
<text transform="translate(456.43 462.98) scale(0.9 1)" font-size="11.3" font-weight="bold" text-anchor="middle">X</text>
<rect x="249.3" y="472.05" width="18.8" height="10.2" rx="2.6" fill="#d5e6f2"/>
<text transform="translate(258.7 480.75) scale(0.86 1)" font-size="10.7" text-anchor="middle" fill="#1a1a1a">M1</text>
<rect x="271.27" y="472.05" width="18.8" height="10.2" rx="2.6" fill="#9dc3e2"/>
<text transform="translate(280.67 480.75) scale(0.86 1)" font-size="10.7" text-anchor="middle" fill="#1a1a1a">M2</text>
<rect x="293.24" y="471.45" width="18.8" height="10.2" rx="2.6" fill="#dbf0cd"/>
<text transform="translate(302.64 480.25) scale(0.9 1)" font-size="11.3" font-weight="bold" text-anchor="middle">X</text>
<rect x="315.21" y="472.05" width="18.8" height="10.2" rx="2.6" fill="#a2d69a"/>
<text transform="translate(324.61 480.75) scale(0.86 1)" font-size="10.7" text-anchor="middle" fill="#1a1a1a">M4</text>
<rect x="337.18" y="472.05" width="18.8" height="10.2" rx="2.6" fill="#fad0d0"/>
<text transform="translate(346.58 480.75) scale(0.86 1)" font-size="10.7" text-anchor="middle" fill="#1a1a1a">M5</text>
<rect x="359.45" y="472.35" width="18.2" height="9.6" rx="2.6" fill="#fff" stroke="#888" stroke-width="0.6" stroke-dasharray="0.9 0.9"/>
<text transform="translate(368.55 480.75) scale(0.86 1)" font-size="10.7" text-anchor="middle" fill="#1a1a1a">M6</text>
<rect x="381.12" y="471.45" width="18.8" height="10.2" rx="2.6" fill="#fde3c4"/>
<text transform="translate(390.52 480.25) scale(0.9 1)" font-size="11.3" font-weight="bold" text-anchor="middle">X</text>
<rect x="403.39" y="472.35" width="18.2" height="9.6" rx="2.6" fill="#fff" stroke="#888" stroke-width="0.6" stroke-dasharray="0.9 0.9"/>
<text transform="translate(412.49 480.75) scale(0.86 1)" font-size="10.7" text-anchor="middle" fill="#1a1a1a">M8</text>
<rect x="425.36" y="472.35" width="18.2" height="9.6" rx="2.6" fill="#fff" stroke="#888" stroke-width="0.6" stroke-dasharray="0.9 0.9"/>
<text transform="translate(434.46 480.75) scale(0.86 1)" font-size="10.7" text-anchor="middle" fill="#1a1a1a">M9</text>
<rect x="447.33" y="472.35" width="18.2" height="9.6" rx="2.6" fill="#fff" stroke="#888" stroke-width="0.6" stroke-dasharray="0.9 0.9"/>
<text transform="translate(456.43 480.75) scale(0.86 1)" font-size="9.9" text-anchor="middle" fill="#1a1a1a">M10</text>
<rect x="249.3" y="488.42" width="18.8" height="10.2" rx="2.6" fill="#d5e6f2"/>
<text transform="translate(258.7 497.22) scale(0.9 1)" font-size="11.3" font-weight="bold" text-anchor="middle">X</text>
<rect x="271.27" y="489.02" width="18.8" height="10.2" rx="2.6" fill="#9dc3e2"/>
<text transform="translate(280.67 497.72) scale(0.86 1)" font-size="10.7" text-anchor="middle" fill="#1a1a1a">M2</text>
<rect x="293.24" y="489.02" width="18.8" height="10.2" rx="2.6" fill="#dbf0cd"/>
<text transform="translate(302.64 497.72) scale(0.86 1)" font-size="10.7" text-anchor="middle" fill="#1a1a1a">M3</text>
<rect x="315.21" y="489.02" width="18.8" height="10.2" rx="2.6" fill="#a2d69a"/>
<text transform="translate(324.61 497.72) scale(0.86 1)" font-size="10.7" text-anchor="middle" fill="#1a1a1a">M4</text>
<rect x="337.48" y="489.32" width="18.2" height="9.6" rx="2.6" fill="#fff" stroke="#888" stroke-width="0.6" stroke-dasharray="0.9 0.9"/>
<text transform="translate(346.58 497.72) scale(0.86 1)" font-size="10.7" text-anchor="middle" fill="#1a1a1a">M5</text>
<rect x="359.15" y="488.42" width="18.8" height="10.2" rx="2.6" fill="#ef999c"/>
<text transform="translate(368.55 497.22) scale(0.9 1)" font-size="11.3" font-weight="bold" text-anchor="middle">X</text>
<rect x="381.42" y="489.32" width="18.2" height="9.6" rx="2.6" fill="#fff" stroke="#888" stroke-width="0.6" stroke-dasharray="0.9 0.9"/>
<text transform="translate(390.52 497.72) scale(0.86 1)" font-size="10.7" text-anchor="middle" fill="#1a1a1a">M7</text>
<rect x="403.09" y="488.42" width="18.8" height="10.2" rx="2.6" fill="#fcbf84"/>
<text transform="translate(412.49 497.22) scale(0.9 1)" font-size="11.3" font-weight="bold" text-anchor="middle">X</text>
<rect x="425.36" y="489.32" width="18.2" height="9.6" rx="2.6" fill="#fff" stroke="#888" stroke-width="0.6" stroke-dasharray="0.9 0.9"/>
<text transform="translate(434.46 497.72) scale(0.86 1)" font-size="10.7" text-anchor="middle" fill="#1a1a1a">M9</text>
<rect x="447.33" y="489.32" width="18.2" height="9.6" rx="2.6" fill="#fff" stroke="#888" stroke-width="0.6" stroke-dasharray="0.9 0.9"/>
<text transform="translate(456.43 497.72) scale(0.86 1)" font-size="9.9" text-anchor="middle" fill="#1a1a1a">M10</text>
<rect x="249.3" y="505.99" width="18.8" height="10.2" rx="2.6" fill="#d5e6f2"/>
<text transform="translate(258.7 514.69) scale(0.86 1)" font-size="10.7" text-anchor="middle" fill="#1a1a1a">M1</text>
<rect x="271.27" y="505.99" width="18.8" height="10.2" rx="2.6" fill="#9dc3e2"/>
<text transform="translate(280.67 514.69) scale(0.86 1)" font-size="10.7" text-anchor="middle" fill="#1a1a1a">M2</text>
<rect x="293.24" y="505.39" width="18.8" height="10.2" rx="2.6" fill="#dbf0cd"/>
<text transform="translate(302.64 514.19) scale(0.9 1)" font-size="11.3" font-weight="bold" text-anchor="middle">X</text>
<rect x="315.21" y="505.99" width="18.8" height="10.2" rx="2.6" fill="#a2d69a"/>
<text transform="translate(324.61 514.69) scale(0.86 1)" font-size="10.7" text-anchor="middle" fill="#1a1a1a">M4</text>
<rect x="337.18" y="505.39" width="18.8" height="10.2" rx="2.6" fill="#fad0d0"/>
<text transform="translate(346.58 514.19) scale(0.9 1)" font-size="11.3" font-weight="bold" text-anchor="middle">X</text>
<rect x="359.15" y="505.39" width="18.8" height="10.2" rx="2.6" fill="#ef999c"/>
<text transform="translate(368.55 514.19) scale(0.9 1)" font-size="11.3" font-weight="bold" text-anchor="middle">X</text>
<rect x="381.12" y="505.39" width="18.8" height="10.2" rx="2.6" fill="#fde3c4"/>
<text transform="translate(390.52 514.19) scale(0.9 1)" font-size="11.3" font-weight="bold" text-anchor="middle">X</text>
<rect x="403.09" y="505.39" width="18.8" height="10.2" rx="2.6" fill="#fcbf84"/>
<text transform="translate(412.49 514.19) scale(0.9 1)" font-size="11.3" font-weight="bold" text-anchor="middle">X</text>
<rect x="425.06" y="505.39" width="18.8" height="10.2" rx="2.6" fill="#e6deef"/>
<text transform="translate(434.46 514.19) scale(0.9 1)" font-size="11.3" font-weight="bold" text-anchor="middle">X</text>
<rect x="447.03" y="505.39" width="18.8" height="10.2" rx="2.6" fill="#b9a5d7"/>
<text transform="translate(456.43 514.19) scale(0.9 1)" font-size="11.3" font-weight="bold" text-anchor="middle">X</text>
<rect x="249.3" y="522.96" width="18.8" height="10.2" rx="2.6" fill="#d5e6f2"/>
<text transform="translate(258.7 531.66) scale(0.86 1)" font-size="10.7" text-anchor="middle" fill="#1a1a1a">M1</text>
<rect x="271.27" y="522.96" width="18.8" height="10.2" rx="2.6" fill="#9dc3e2"/>
<text transform="translate(280.67 531.66) scale(0.86 1)" font-size="10.7" text-anchor="middle" fill="#1a1a1a">M2</text>
<rect x="293.24" y="522.36" width="18.8" height="10.2" rx="2.6" fill="#dbf0cd"/>
<text transform="translate(302.64 531.16) scale(0.9 1)" font-size="11.3" font-weight="bold" text-anchor="middle">X</text>
<rect x="315.21" y="522.96" width="18.8" height="10.2" rx="2.6" fill="#a2d69a"/>
<text transform="translate(324.61 531.66) scale(0.86 1)" font-size="10.7" text-anchor="middle" fill="#1a1a1a">M4</text>
<rect x="337.18" y="522.96" width="18.8" height="10.2" rx="2.6" fill="#fad0d0"/>
<text transform="translate(346.58 531.66) scale(0.86 1)" font-size="10.7" text-anchor="middle" fill="#1a1a1a">M5</text>
<rect x="359.15" y="522.36" width="18.8" height="10.2" rx="2.6" fill="#ef999c"/>
<text transform="translate(368.55 531.16) scale(0.9 1)" font-size="11.3" font-weight="bold" text-anchor="middle">X</text>
<rect x="381.42" y="523.26" width="18.2" height="9.6" rx="2.6" fill="#fff" stroke="#888" stroke-width="0.6" stroke-dasharray="0.9 0.9"/>
<text transform="translate(390.52 531.66) scale(0.86 1)" font-size="10.7" text-anchor="middle" fill="#1a1a1a">M7</text>
<rect x="403.39" y="523.26" width="18.2" height="9.6" rx="2.6" fill="#fff" stroke="#888" stroke-width="0.6" stroke-dasharray="0.9 0.9"/>
<text transform="translate(412.49 531.66) scale(0.86 1)" font-size="10.7" text-anchor="middle" fill="#1a1a1a">M8</text>
<rect x="425.36" y="523.26" width="18.2" height="9.6" rx="2.6" fill="#fff" stroke="#888" stroke-width="0.6" stroke-dasharray="0.9 0.9"/>
<text transform="translate(434.46 531.66) scale(0.86 1)" font-size="10.7" text-anchor="middle" fill="#1a1a1a">M9</text>
<rect x="447.33" y="523.26" width="18.2" height="9.6" rx="2.6" fill="#fff" stroke="#888" stroke-width="0.6" stroke-dasharray="0.9 0.9"/>
<text transform="translate(456.43 531.66) scale(0.86 1)" font-size="9.9" text-anchor="middle" fill="#1a1a1a">M10</text>
<rect x="496.6" y="385.9" width="19.4" height="10.5" rx="2.8" fill="#000"/>
<text x="506.3" y="413" font-size="9.7" text-anchor="middle" fill="#222">Complete retention</text>
<rect x="496.8" y="423.6" width="19" height="10.4" rx="2.6" fill="#fff" stroke="#555" stroke-width="0.6"/>
<path d="M503.3 425.9L509.5 431.7M509.5 425.9L503.3 431.7" stroke="#111" stroke-width="1.1" fill="none"/>
<text x="506.3" y="451.2" font-size="9.7" text-anchor="middle" fill="#222">Partial lost</text>
<rect x="496.8" y="461.3" width="19" height="10.4" rx="2.6" fill="#fff" stroke="#999" stroke-width="0.6" stroke-dasharray="0.9 0.9"/>
<text x="506.3" y="488.2" font-size="9.7" text-anchor="middle" fill="#222">Complete lost</text>
</g>
<defs>
<linearGradient id="gB" x1="0" y1="0" x2="0" y2="1"><stop offset="0" stop-color="#eaf3fa"/><stop offset="1" stop-color="#a9cfee"/></linearGradient>
<linearGradient id="gG" x1="0" y1="0" x2="0" y2="1"><stop offset="0" stop-color="#e8f5e6"/><stop offset="1" stop-color="#a9dba8"/></linearGradient>
<linearGradient id="gR" x1="0" y1="0" x2="0" y2="1"><stop offset="0" stop-color="#fbe3e3"/><stop offset="1" stop-color="#f59a9a"/></linearGradient>
<linearGradient id="gO" x1="0" y1="0" x2="0" y2="1"><stop offset="0" stop-color="#fdebdc"/><stop offset="1" stop-color="#f9b98a"/></linearGradient>
</defs>
<g id="partc" font-family='"Liberation Serif", serif' fill="#111">
<text x="8.5" y="551" font-size="11.5">(c)</text>
<path d="M61.5 582.6H236L192 593.6H99Z" fill="url(#gB)"/>
<path d="M99 606H192L164.5 623.3H127.5Z" fill="#e3e3e3"/>
<path d="M179 637H220.7L210.4 654.6H79.8Z" fill="#e3e3e3"/>
<path d="M79.8 666.2H210.4L239 675.2H46Z" fill="url(#gR)"/>
<path d="M301.5 583H456.3L420.4 594.3H329.1Z" fill="url(#gG)"/>
<path d="M329.1 606.8H420.4L333.8 624H300.7Z" fill="#e3e3e3"/>
<path d="M354.2 636.8H414.2L480.4 653.4H289Z" fill="#e3e3e3"/>
<path d="M289 666.4H480.4L516 675.8H282Z" fill="url(#gO)"/>
<rect x="64.5" y="623.2" width="390.8" height="14" fill="#c9c9c9"/>
<rect x="127.5" y="623.2" width="37" height="14" fill="#2f7fc2"/>
<text x="146" y="633.4" font-size="9" font-weight="bold" fill="#fff" text-anchor="middle">KNOX 1</text>
<rect x="179" y="623.2" width="41.7" height="14" fill="#e0272b"/>
<text x="199.85" y="633.4" font-size="9" font-weight="bold" fill="#fff" text-anchor="middle">KNOX 2</text>
<rect x="300.7" y="623.2" width="33.1" height="14" fill="#3fa24c"/>
<text x="317.25" y="633.4" font-size="9" font-weight="bold" fill="#fff" text-anchor="middle">ELK</text>
<rect x="354.2" y="623.2" width="60" height="14" fill="#f0832c"/>
<text x="384.2" y="633.4" font-size="9" font-weight="bold" fill="#fff" text-anchor="middle">Homeobox</text>
<rect x="99" y="593.5" width="93" height="12.6" fill="#8fbbdd"/>
<text x="145.5" y="602.4" font-size="7.6" text-anchor="middle" textLength="88" lengthAdjust="spacingAndGlyphs" fill="#222">K--I--HP-Y--LL-----C-----P</text>
<rect x="79.8" y="654.5" width="130.6" height="11.8" fill="#ef8d8d"/>
<text x="145.1" y="663" font-size="7.6" text-anchor="middle" textLength="125.6" lengthAdjust="spacingAndGlyphs" fill="#222">D-ELD-FM--Y---L------L--HV-V--EA</text>
<rect x="329.1" y="594.2" width="91.3" height="12.7" fill="#8cca8c"/>
<text x="374.75" y="603.15" font-size="7.6" text-anchor="middle" textLength="86.3" lengthAdjust="spacingAndGlyphs" fill="#222">ELK--L-------I-----E---KR</text>
<rect x="289" y="653.3" width="191.4" height="13.2" fill="#f6b37c"/>
<text x="384.7" y="662.5" font-size="7.6" text-anchor="middle" textLength="186.4" lengthAdjust="spacingAndGlyphs" fill="#222">H-KWPYP-E--K--L---TGL--KQINNWFINQRKR-W</text>
<g font-family='"Liberation Sans", sans-serif' font-weight="bold" font-size="10"><text transform="translate(61.65 582.2) scale(1 2.37)" textLength="5.94" lengthAdjust="spacingAndGlyphs" fill="#1f4fc4">K</text><text transform="translate(67.89 582.2) scale(1 0.42)" textLength="5.94" lengthAdjust="spacingAndGlyphs" fill="#1d9a3c">G</text><text transform="translate(67.89 579.2) scale(1 1.08)" textLength="5.94" lengthAdjust="spacingAndGlyphs" fill="#111111">A</text><text transform="translate(74.13 582.2) scale(1 0.7)" textLength="5.94" lengthAdjust="spacingAndGlyphs" fill="#e6151c">E</text><text transform="translate(74.13 577.2) scale(1 0.84)" textLength="5.94" lengthAdjust="spacingAndGlyphs" fill="#1f4fc4">K</text><text transform="translate(80.37 582.2) scale(1 2.16)" textLength="5.94" lengthAdjust="spacingAndGlyphs" fill="#111111" font-family='"Liberation Mono", monospace'>I</text><text transform="translate(86.61 582.2) scale(1 0.56)" textLength="5.94" lengthAdjust="spacingAndGlyphs" fill="#1d9a3c">S</text><text transform="translate(86.61 578.2) scale(1 0.84)" textLength="5.94" lengthAdjust="spacingAndGlyphs" fill="#1d9a3c">C</text><text transform="translate(92.85 582.2) scale(1 0.42)" textLength="5.94" lengthAdjust="spacingAndGlyphs" fill="#1d9a3c">S</text><text transform="translate(92.85 579.2) scale(1 0.56)" textLength="5.94" lengthAdjust="spacingAndGlyphs" fill="#1f4fc4">H</text><text transform="translate(99.09 582.2) scale(1 3.21)" textLength="5.94" lengthAdjust="spacingAndGlyphs" fill="#1f4fc4">H</text><text transform="translate(105.33 582.2) scale(1 2.09)" textLength="5.94" lengthAdjust="spacingAndGlyphs" fill="#111111">P</text><text transform="translate(111.57 582.2) scale(1 0.56)" textLength="5.94" lengthAdjust="spacingAndGlyphs" fill="#111111">M</text><text transform="translate(111.57 578.2) scale(1 0.84)" textLength="5.94" lengthAdjust="spacingAndGlyphs" fill="#111111">L</text><text transform="translate(117.81 582.2) scale(1 2.93)" textLength="5.94" lengthAdjust="spacingAndGlyphs" fill="#1d9a3c">Y</text><text transform="translate(124.05 582.2) scale(1 0.56)" textLength="5.94" lengthAdjust="spacingAndGlyphs" fill="#1d9a3c">G</text><text transform="translate(124.05 578.2) scale(1 0.84)" textLength="5.94" lengthAdjust="spacingAndGlyphs" fill="#e6151c">E</text><text transform="translate(130.29 582.2) scale(1 0.7)" textLength="5.94" lengthAdjust="spacingAndGlyphs" fill="#1f4fc4">R</text><text transform="translate(130.29 577.2) scale(1 0.84)" textLength="5.94" lengthAdjust="spacingAndGlyphs" fill="#a31fc0">Q</text><text transform="translate(136.53 582.2) scale(1 2.09)" textLength="5.94" lengthAdjust="spacingAndGlyphs" fill="#111111">L</text><text transform="translate(142.77 582.2) scale(1 2.09)" textLength="5.94" lengthAdjust="spacingAndGlyphs" fill="#111111">L</text><text transform="translate(149.01 582.2) scale(1 0.42)" textLength="5.94" lengthAdjust="spacingAndGlyphs" fill="#a31fc0">Q</text><text transform="translate(149.01 579.2) scale(1 0.84)" textLength="5.94" lengthAdjust="spacingAndGlyphs" fill="#111111">A</text><text transform="translate(155.25 582.2) scale(1 1.54)" textLength="5.94" lengthAdjust="spacingAndGlyphs" fill="#111111">A</text><text transform="translate(161.49 582.2) scale(1 1.12)" textLength="5.94" lengthAdjust="spacingAndGlyphs" fill="#1d9a3c">Y</text><text transform="translate(161.49 574.2) scale(1 1.12)" textLength="5.94" lengthAdjust="spacingAndGlyphs" fill="#1f4fc4">H</text><text transform="translate(167.73 582.2) scale(1 0.42)" textLength="5.94" lengthAdjust="spacingAndGlyphs" fill="#111111" font-family='"Liberation Mono", monospace'>I</text><text transform="translate(167.73 579.2) scale(1 1.12)" textLength="5.94" lengthAdjust="spacingAndGlyphs" fill="#111111">V</text><text transform="translate(173.97 582.2) scale(1 0.56)" textLength="5.94" lengthAdjust="spacingAndGlyphs" fill="#e6151c">D</text><text transform="translate(173.97 578.2) scale(1 0.98)" textLength="5.94" lengthAdjust="spacingAndGlyphs" fill="#111111">A</text><text transform="translate(180.21 582.2) scale(1 3.35)" textLength="5.94" lengthAdjust="spacingAndGlyphs" fill="#1d9a3c">C</text><text transform="translate(186.45 582.2) scale(1 0.7)" textLength="5.94" lengthAdjust="spacingAndGlyphs" fill="#a31fc0">Q</text><text transform="translate(186.45 577.2) scale(1 1.12)" textLength="5.94" lengthAdjust="spacingAndGlyphs" fill="#111111">L</text><text transform="translate(192.69 582.2) scale(1 0.7)" textLength="5.94" lengthAdjust="spacingAndGlyphs" fill="#1f4fc4">R</text><text transform="translate(192.69 577.2) scale(1 1.12)" textLength="5.94" lengthAdjust="spacingAndGlyphs" fill="#1f4fc4">K</text><text transform="translate(198.93 582.2) scale(1 0.42)" textLength="5.94" lengthAdjust="spacingAndGlyphs" fill="#111111" font-family='"Liberation Mono", monospace'>I</text><text transform="translate(198.93 579.2) scale(1 1.12)" textLength="5.94" lengthAdjust="spacingAndGlyphs" fill="#111111">V</text><text transform="translate(205.17 582.2) scale(1 0.56)" textLength="5.94" lengthAdjust="spacingAndGlyphs" fill="#1d9a3c">G</text><text transform="translate(205.17 578.2) scale(1 1.12)" textLength="5.94" lengthAdjust="spacingAndGlyphs" fill="#111111">A</text><text transform="translate(211.41 582.2) scale(1 0.56)" textLength="5.94" lengthAdjust="spacingAndGlyphs" fill="#1d9a3c">T</text><text transform="translate(211.41 578.2) scale(1 1.12)" textLength="5.94" lengthAdjust="spacingAndGlyphs" fill="#111111">A</text><text transform="translate(217.65 582.2) scale(1 2.16)" textLength="5.94" lengthAdjust="spacingAndGlyphs" fill="#111111">P</text><text transform="translate(223.89 582.2) scale(1 0.42)" textLength="5.94" lengthAdjust="spacingAndGlyphs" fill="#111111">V</text><text transform="translate(223.89 579.2) scale(1 0.7)" textLength="5.94" lengthAdjust="spacingAndGlyphs" fill="#1d9a3c">C</text><text transform="translate(230.13 582.2) scale(1 0.7)" textLength="5.94" lengthAdjust="spacingAndGlyphs" fill="#e6151c">E</text><text transform="translate(230.13 577.2) scale(1 1.26)" textLength="5.94" lengthAdjust="spacingAndGlyphs" fill="#e6151c">D</text></g>
<text x="56.4" y="555.5" font-size="7.6" text-anchor="end" fill="#222">4</text>
<text x="56.4" y="570.1" font-size="7.6" text-anchor="end" fill="#222">2</text>
<text x="56.4" y="584.7" font-size="7.6" text-anchor="end" fill="#222">0</text>
<path d="M60.6 553V582.2M57.4 553H60.6M57.4 567.6H60.6M57.4 582.2H60.6" stroke="#222" stroke-width="0.7" fill="none"/>
<text transform="translate(46 568.6) rotate(-90)" font-size="7.6" text-anchor="middle" fill="#222">bits</text>
<g font-family='"Liberation Sans", sans-serif' font-weight="bold" font-size="10"><text transform="translate(43.05 702.8) scale(1 0.42)" textLength="5.92" lengthAdjust="spacingAndGlyphs" fill="#1f4fc4">K</text><text transform="translate(43.05 699.8) scale(1 1.48)" textLength="5.92" lengthAdjust="spacingAndGlyphs" fill="#e6151c">D</text><text transform="translate(49.27 702.8) scale(1 0.84)" textLength="5.92" lengthAdjust="spacingAndGlyphs" fill="#1f4fc4">K</text><text transform="translate(49.27 696.8) scale(1 0.77)" textLength="5.92" lengthAdjust="spacingAndGlyphs" fill="#111111">P</text><text transform="translate(55.49 702.8) scale(1 1.9)" textLength="5.92" lengthAdjust="spacingAndGlyphs" fill="#e6151c">E</text><text transform="translate(61.71 702.8) scale(1 2.03)" textLength="5.92" lengthAdjust="spacingAndGlyphs" fill="#111111">L</text><text transform="translate(67.93 702.8) scale(1 2.23)" textLength="5.92" lengthAdjust="spacingAndGlyphs" fill="#e6151c">D</text><text transform="translate(74.15 702.8) scale(1 0.42)" textLength="5.92" lengthAdjust="spacingAndGlyphs" fill="#e6151c">E</text><text transform="translate(74.15 699.8) scale(1 0.56)" textLength="5.92" lengthAdjust="spacingAndGlyphs" fill="#1f4fc4">H</text><text transform="translate(74.15 695.8) scale(1 0.56)" textLength="5.92" lengthAdjust="spacingAndGlyphs" fill="#a31fc0">Q</text><text transform="translate(80.37 702.8) scale(1 2.7)" textLength="5.92" lengthAdjust="spacingAndGlyphs" fill="#111111">F</text><text transform="translate(86.59 702.8) scale(1 2.7)" textLength="5.92" lengthAdjust="spacingAndGlyphs" fill="#111111">M</text><text transform="translate(92.81 702.8) scale(1 0.56)" textLength="5.92" lengthAdjust="spacingAndGlyphs" fill="#1f4fc4">K</text><text transform="translate(92.81 698.8) scale(1 0.84)" textLength="5.92" lengthAdjust="spacingAndGlyphs" fill="#e6151c">E</text><text transform="translate(99.03 702.8) scale(1 0.7)" textLength="5.92" lengthAdjust="spacingAndGlyphs" fill="#111111">A</text><text transform="translate(99.03 697.8) scale(1 0.7)" textLength="5.92" lengthAdjust="spacingAndGlyphs" fill="#1f4fc4">H</text><text transform="translate(105.25 702.8) scale(1 3)" textLength="5.92" lengthAdjust="spacingAndGlyphs" fill="#1d9a3c">Y</text><text transform="translate(111.47 702.8) scale(1 0.98)" textLength="5.92" lengthAdjust="spacingAndGlyphs" fill="#111111">V</text><text transform="translate(111.47 695.8) scale(1 0.98)" textLength="5.92" lengthAdjust="spacingAndGlyphs" fill="#1d9a3c">C</text><text transform="translate(117.69 702.8) scale(1 0.56)" textLength="5.92" lengthAdjust="spacingAndGlyphs" fill="#e6151c">E</text><text transform="translate(117.69 698.8) scale(1 0.7)" textLength="5.92" lengthAdjust="spacingAndGlyphs" fill="#e6151c">D</text><text transform="translate(123.91 702.8) scale(1 0.42)" textLength="5.92" lengthAdjust="spacingAndGlyphs" fill="#1d9a3c">S</text><text transform="translate(123.91 699.8) scale(1 0.84)" textLength="5.92" lengthAdjust="spacingAndGlyphs" fill="#111111">L</text><text transform="translate(130.13 702.8) scale(1 1.82)" textLength="5.92" lengthAdjust="spacingAndGlyphs" fill="#111111">L</text><text transform="translate(136.35 702.8) scale(1 1.12)" textLength="5.92" lengthAdjust="spacingAndGlyphs" fill="#111111">V</text><text transform="translate(136.35 694.8) scale(1 0.84)" textLength="5.92" lengthAdjust="spacingAndGlyphs" fill="#1d9a3c">C</text><text transform="translate(142.57 702.8) scale(1 0.84)" textLength="5.92" lengthAdjust="spacingAndGlyphs" fill="#1d9a3c">S</text><text transform="translate(142.57 696.8) scale(1 0.84)" textLength="5.92" lengthAdjust="spacingAndGlyphs" fill="#1f4fc4">K</text><text transform="translate(148.79 702.8) scale(1 0.84)" textLength="5.92" lengthAdjust="spacingAndGlyphs" fill="#1d9a3c">Y</text><text transform="translate(148.79 696.8) scale(1 1.12)" textLength="5.92" lengthAdjust="spacingAndGlyphs" fill="#111111">F</text><text transform="translate(155.01 702.8) scale(1 1.68)" textLength="5.92" lengthAdjust="spacingAndGlyphs" fill="#1f4fc4">K</text><text transform="translate(161.23 702.8) scale(1 1.4)" textLength="5.92" lengthAdjust="spacingAndGlyphs" fill="#e6151c">E</text><text transform="translate(167.45 702.8) scale(1 0.56)" textLength="5.92" lengthAdjust="spacingAndGlyphs" fill="#1d9a3c">S</text><text transform="translate(167.45 698.8) scale(1 0.84)" textLength="5.92" lengthAdjust="spacingAndGlyphs" fill="#a31fc0">Q</text><text transform="translate(173.67 702.8) scale(1 1.68)" textLength="5.92" lengthAdjust="spacingAndGlyphs" fill="#111111">L</text><text transform="translate(179.89 702.8) scale(1 0.56)" textLength="5.92" lengthAdjust="spacingAndGlyphs" fill="#1d9a3c">C</text><text transform="translate(179.89 698.8) scale(1 0.7)" textLength="5.92" lengthAdjust="spacingAndGlyphs" fill="#a31fc0">Q</text><text transform="translate(186.11 702.8) scale(1 0.7)" textLength="5.92" lengthAdjust="spacingAndGlyphs" fill="#1f4fc4">R</text><text transform="translate(186.11 697.8) scale(1 0.84)" textLength="5.92" lengthAdjust="spacingAndGlyphs" fill="#a31fc0">Q</text><text transform="translate(192.33 702.8) scale(1 2.09)" textLength="5.92" lengthAdjust="spacingAndGlyphs" fill="#1f4fc4">H</text><text transform="translate(198.55 702.8) scale(1 0.56)" textLength="5.92" lengthAdjust="spacingAndGlyphs" fill="#111111" font-family='"Liberation Mono", monospace'>I</text><text transform="translate(198.55 698.8) scale(1 0.98)" textLength="5.92" lengthAdjust="spacingAndGlyphs" fill="#1d9a3c">Y</text><text transform="translate(204.77 702.8) scale(1 1.54)" textLength="5.92" lengthAdjust="spacingAndGlyphs" fill="#111111" font-family='"Liberation Mono", monospace'>I</text><text transform="translate(210.99 702.8) scale(1 1.54)" textLength="5.92" lengthAdjust="spacingAndGlyphs" fill="#111111">V</text><text transform="translate(217.21 702.8) scale(1 0.98)" textLength="5.92" lengthAdjust="spacingAndGlyphs" fill="#111111">P</text><text transform="translate(217.21 695.8) scale(1 0.98)" textLength="5.92" lengthAdjust="spacingAndGlyphs" fill="#1f4fc4">H</text><text transform="translate(223.43 702.8) scale(1 0.56)" textLength="5.92" lengthAdjust="spacingAndGlyphs" fill="#1f4fc4">R</text><text transform="translate(223.43 698.8) scale(1 0.98)" textLength="5.92" lengthAdjust="spacingAndGlyphs" fill="#111111">A</text><text transform="translate(229.65 702.8) scale(1 0.42)" textLength="5.92" lengthAdjust="spacingAndGlyphs" fill="#1d9a3c">S</text><text transform="translate(229.65 699.8) scale(1 1.12)" textLength="5.92" lengthAdjust="spacingAndGlyphs" fill="#111111">M</text><text transform="translate(235.87 702.8) scale(1 1.82)" textLength="5.92" lengthAdjust="spacingAndGlyphs" fill="#e6151c">E</text><text transform="translate(242.09 702.8) scale(1 1.68)" textLength="5.92" lengthAdjust="spacingAndGlyphs" fill="#111111">A</text></g>
<text x="38.2" y="691" font-size="7.6" text-anchor="end" fill="#222">2</text>
<text x="38.2" y="705.3" font-size="7.6" text-anchor="end" fill="#222">0</text>
<path d="M42.4 682.4V702.8M39.2 688.5H42.4M39.2 702.8H42.4" stroke="#222" stroke-width="0.7" fill="none"/>
<text transform="translate(27.5 696.65) rotate(-90)" font-size="7.6" text-anchor="middle" fill="#222">bits</text>
<g font-family='"Liberation Sans", sans-serif' font-weight="bold" font-size="10"><text transform="translate(301.95 582.5) scale(1 0.42)" textLength="5.63" lengthAdjust="spacingAndGlyphs" fill="#e6151c">D</text><text transform="translate(301.95 579.5) scale(1 1.68)" textLength="5.63" lengthAdjust="spacingAndGlyphs" fill="#e6151c">E</text><text transform="translate(307.88 582.5) scale(1 2.03)" textLength="5.63" lengthAdjust="spacingAndGlyphs" fill="#111111">L</text><text transform="translate(313.81 582.5) scale(1 2.51)" textLength="5.63" lengthAdjust="spacingAndGlyphs" fill="#1f4fc4">K</text><text transform="translate(319.74 582.5) scale(1 0.42)" textLength="5.63" lengthAdjust="spacingAndGlyphs" fill="#1d9a3c">S</text><text transform="translate(319.74 579.5) scale(1 0.56)" textLength="5.63" lengthAdjust="spacingAndGlyphs" fill="#e6151c">E</text><text transform="translate(319.74 575.5) scale(1 0.7)" textLength="5.63" lengthAdjust="spacingAndGlyphs" fill="#1f4fc4">H</text><text transform="translate(325.67 582.5) scale(1 0.56)" textLength="5.63" lengthAdjust="spacingAndGlyphs" fill="#1f4fc4">K</text><text transform="translate(325.67 578.5) scale(1 0.98)" textLength="5.63" lengthAdjust="spacingAndGlyphs" fill="#e6151c">E</text><text transform="translate(331.6 582.5) scale(1 1.96)" textLength="5.63" lengthAdjust="spacingAndGlyphs" fill="#111111">L</text><text transform="translate(337.53 582.5) scale(1 0.56)" textLength="5.63" lengthAdjust="spacingAndGlyphs" fill="#1f4fc4">R</text><text transform="translate(337.53 578.5) scale(1 1.26)" textLength="5.63" lengthAdjust="spacingAndGlyphs" fill="#111111">L</text><text transform="translate(343.46 582.5) scale(1 0.84)" textLength="5.63" lengthAdjust="spacingAndGlyphs" fill="#1f4fc4">R</text><text transform="translate(343.46 576.5) scale(1 0.84)" textLength="5.63" lengthAdjust="spacingAndGlyphs" fill="#1f4fc4">K</text><text transform="translate(349.39 582.5) scale(1 0.7)" textLength="5.63" lengthAdjust="spacingAndGlyphs" fill="#1f4fc4">K</text><text transform="translate(349.39 577.5) scale(1 0.84)" textLength="5.63" lengthAdjust="spacingAndGlyphs" fill="#a31fc0">Q</text><text transform="translate(355.32 582.5) scale(1 0.84)" textLength="5.63" lengthAdjust="spacingAndGlyphs" fill="#1d9a3c">Y</text><text transform="translate(355.32 576.5) scale(1 0.84)" textLength="5.63" lengthAdjust="spacingAndGlyphs" fill="#1d9a3c">G</text><text transform="translate(361.25 582.5) scale(1 0.7)" textLength="5.63" lengthAdjust="spacingAndGlyphs" fill="#1d9a3c">Y</text><text transform="translate(361.25 577.5) scale(1 1.26)" textLength="5.63" lengthAdjust="spacingAndGlyphs" fill="#111111">F</text><text transform="translate(367.18 582.5) scale(1 0.56)" textLength="5.63" lengthAdjust="spacingAndGlyphs" fill="#a31fc0">N</text><text transform="translate(367.18 578.5) scale(1 0.84)" textLength="5.63" lengthAdjust="spacingAndGlyphs" fill="#1f4fc4">K</text><text transform="translate(373.11 582.5) scale(1 0.56)" textLength="5.63" lengthAdjust="spacingAndGlyphs" fill="#1d9a3c">S</text><text transform="translate(373.11 578.5) scale(1 0.7)" textLength="5.63" lengthAdjust="spacingAndGlyphs" fill="#e6151c">E</text><text transform="translate(379.04 582.5) scale(1 0.42)" textLength="5.63" lengthAdjust="spacingAndGlyphs" fill="#1d9a3c">S</text><text transform="translate(379.04 579.5) scale(1 0.84)" textLength="5.63" lengthAdjust="spacingAndGlyphs" fill="#1f4fc4">K</text><text transform="translate(384.97 582.5) scale(1 0.42)" textLength="5.63" lengthAdjust="spacingAndGlyphs" fill="#111111">L</text><text transform="translate(384.97 579.5) scale(1 1.54)" textLength="5.63" lengthAdjust="spacingAndGlyphs" fill="#111111" font-family='"Liberation Mono", monospace'>I</text><text transform="translate(390.9 582.5) scale(1 0.7)" textLength="5.63" lengthAdjust="spacingAndGlyphs" fill="#111111">V</text><text transform="translate(390.9 577.5) scale(1 0.7)" textLength="5.63" lengthAdjust="spacingAndGlyphs" fill="#e6151c">D</text><text transform="translate(396.83 582.5) scale(1 0.56)" textLength="5.63" lengthAdjust="spacingAndGlyphs" fill="#1d9a3c">S</text><text transform="translate(396.83 578.5) scale(1 0.84)" textLength="5.63" lengthAdjust="spacingAndGlyphs" fill="#e6151c">D</text><text transform="translate(402.76 582.5) scale(1 0.42)" textLength="5.63" lengthAdjust="spacingAndGlyphs" fill="#111111" font-family='"Liberation Mono", monospace'>I</text><text transform="translate(402.76 579.5) scale(1 1.12)" textLength="5.63" lengthAdjust="spacingAndGlyphs" fill="#111111">L</text><text transform="translate(408.69 582.5) scale(1 0.84)" textLength="5.63" lengthAdjust="spacingAndGlyphs" fill="#1f4fc4">R</text><text transform="translate(408.69 576.5) scale(1 0.84)" textLength="5.63" lengthAdjust="spacingAndGlyphs" fill="#1f4fc4">K</text><text transform="translate(414.62 582.5) scale(1 0.56)" textLength="5.63" lengthAdjust="spacingAndGlyphs" fill="#1d9a3c">S</text><text transform="translate(414.62 578.5) scale(1 0.98)" textLength="5.63" lengthAdjust="spacingAndGlyphs" fill="#e6151c">E</text><text transform="translate(420.55 582.5) scale(1 2.37)" textLength="5.63" lengthAdjust="spacingAndGlyphs" fill="#e6151c">E</text><text transform="translate(426.48 582.5) scale(1 0.42)" textLength="5.63" lengthAdjust="spacingAndGlyphs" fill="#111111">L</text><text transform="translate(426.48 579.5) scale(1 0.42)" textLength="5.63" lengthAdjust="spacingAndGlyphs" fill="#111111" font-family='"Liberation Mono", monospace'>I</text><text transform="translate(426.48 576.5) scale(1 0.42)" textLength="5.63" lengthAdjust="spacingAndGlyphs" fill="#1d9a3c">G</text><text transform="translate(432.41 582.5) scale(1 0.56)" textLength="5.63" lengthAdjust="spacingAndGlyphs" fill="#111111">L</text><text transform="translate(432.41 578.5) scale(1 0.98)" textLength="5.63" lengthAdjust="spacingAndGlyphs" fill="#111111">M</text><text transform="translate(438.34 582.5) scale(1 0.84)" textLength="5.63" lengthAdjust="spacingAndGlyphs" fill="#1f4fc4">R</text><text transform="translate(438.34 576.5) scale(1 0.84)" textLength="5.63" lengthAdjust="spacingAndGlyphs" fill="#1f4fc4">K</text><text transform="translate(444.27 582.5) scale(1 2.37)" textLength="5.63" lengthAdjust="spacingAndGlyphs" fill="#1f4fc4">K</text><text transform="translate(450.2 582.5) scale(1 0.42)" textLength="5.63" lengthAdjust="spacingAndGlyphs" fill="#1f4fc4">K</text><text transform="translate(450.2 579.5) scale(1 1.54)" textLength="5.63" lengthAdjust="spacingAndGlyphs" fill="#1f4fc4">R</text></g>
<text x="295.4" y="570.3" font-size="7.6" text-anchor="end" fill="#222">2</text>
<text x="295.4" y="585" font-size="7.6" text-anchor="end" fill="#222">0</text>
<path d="M299.6 564.5V582.5M296.4 567.8H299.6M296.4 582.5H299.6" stroke="#222" stroke-width="0.7" fill="none"/>
<text transform="translate(285 576.15) rotate(-90)" font-size="7.6" text-anchor="middle" fill="#222">bits</text>
<g font-family='"Liberation Sans", sans-serif' font-weight="bold" font-size="10"><text transform="translate(279.95 703) scale(1 3.35)" textLength="5.9" lengthAdjust="spacingAndGlyphs" fill="#1f4fc4">H</text><text transform="translate(286.15 703) scale(1 0.42)" textLength="5.9" lengthAdjust="spacingAndGlyphs" fill="#1f4fc4">K</text><text transform="translate(286.15 700) scale(1 0.7)" textLength="5.9" lengthAdjust="spacingAndGlyphs" fill="#1d9a3c">S</text><text transform="translate(292.35 703) scale(1 2.09)" textLength="5.9" lengthAdjust="spacingAndGlyphs" fill="#1f4fc4">K</text><text transform="translate(298.55 703) scale(1 3.7)" textLength="5.9" lengthAdjust="spacingAndGlyphs" fill="#111111">W</text><text transform="translate(304.75 703) scale(1 2.09)" textLength="5.9" lengthAdjust="spacingAndGlyphs" fill="#111111">P</text><text transform="translate(310.95 703) scale(1 2.23)" textLength="5.9" lengthAdjust="spacingAndGlyphs" fill="#1d9a3c">Y</text><text transform="translate(317.15 703) scale(1 2.09)" textLength="5.9" lengthAdjust="spacingAndGlyphs" fill="#111111">P</text><text transform="translate(323.35 703) scale(1 0.42)" textLength="5.9" lengthAdjust="spacingAndGlyphs" fill="#111111" font-family='"Liberation Mono", monospace'>I</text><text transform="translate(323.35 700) scale(1 1.54)" textLength="5.9" lengthAdjust="spacingAndGlyphs" fill="#1d9a3c">T</text><text transform="translate(329.55 703) scale(1 1.82)" textLength="5.9" lengthAdjust="spacingAndGlyphs" fill="#e6151c">E</text><text transform="translate(335.75 703) scale(1 0.42)" textLength="5.9" lengthAdjust="spacingAndGlyphs" fill="#a31fc0">N</text><text transform="translate(335.75 700) scale(1 0.7)" textLength="5.9" lengthAdjust="spacingAndGlyphs" fill="#1d9a3c">S</text><text transform="translate(341.95 703) scale(1 1.82)" textLength="5.9" lengthAdjust="spacingAndGlyphs" fill="#e6151c">D</text><text transform="translate(348.15 703) scale(1 2.09)" textLength="5.9" lengthAdjust="spacingAndGlyphs" fill="#1f4fc4">K</text><text transform="translate(354.35 703) scale(1 0.42)" textLength="5.9" lengthAdjust="spacingAndGlyphs" fill="#1d9a3c">S</text><text transform="translate(354.35 700) scale(1 0.98)" textLength="5.9" lengthAdjust="spacingAndGlyphs" fill="#111111">A</text><text transform="translate(360.55 703) scale(1 0.42)" textLength="5.9" lengthAdjust="spacingAndGlyphs" fill="#1d9a3c">G</text><text transform="translate(360.55 700) scale(1 0.98)" textLength="5.9" lengthAdjust="spacingAndGlyphs" fill="#111111">A</text><text transform="translate(366.75 703) scale(1 1.82)" textLength="5.9" lengthAdjust="spacingAndGlyphs" fill="#111111">L</text><text transform="translate(372.95 703) scale(1 0.42)" textLength="5.9" lengthAdjust="spacingAndGlyphs" fill="#1d9a3c">G</text><text transform="translate(372.95 700) scale(1 0.84)" textLength="5.9" lengthAdjust="spacingAndGlyphs" fill="#a31fc0">Q</text><text transform="translate(379.15 703) scale(1 0.7)" textLength="5.9" lengthAdjust="spacingAndGlyphs" fill="#e6151c">E</text><text transform="translate(379.15 698) scale(1 0.84)" textLength="5.9" lengthAdjust="spacingAndGlyphs" fill="#e6151c">E</text><text transform="translate(385.35 703) scale(1 0.7)" textLength="5.9" lengthAdjust="spacingAndGlyphs" fill="#e6151c">E</text><text transform="translate(385.35 698) scale(1 0.84)" textLength="5.9" lengthAdjust="spacingAndGlyphs" fill="#e6151c">E</text><text transform="translate(391.55 703) scale(1 2.09)" textLength="5.9" lengthAdjust="spacingAndGlyphs" fill="#1d9a3c">T</text><text transform="translate(397.75 703) scale(1 2.09)" textLength="5.9" lengthAdjust="spacingAndGlyphs" fill="#1d9a3c">G</text><text transform="translate(403.95 703) scale(1 2.09)" textLength="5.9" lengthAdjust="spacingAndGlyphs" fill="#111111">L</text><text transform="translate(410.15 703) scale(1 0.42)" textLength="5.9" lengthAdjust="spacingAndGlyphs" fill="#1d9a3c">S</text><text transform="translate(410.15 700) scale(1 0.56)" textLength="5.9" lengthAdjust="spacingAndGlyphs" fill="#a31fc0">Q</text><text transform="translate(410.15 696) scale(1 0.84)" textLength="5.9" lengthAdjust="spacingAndGlyphs" fill="#e6151c">D</text><text transform="translate(416.35 703) scale(1 0.7)" textLength="5.9" lengthAdjust="spacingAndGlyphs" fill="#a31fc0">Q</text><text transform="translate(416.35 698) scale(1 0.98)" textLength="5.9" lengthAdjust="spacingAndGlyphs" fill="#111111">L</text><text transform="translate(422.55 703) scale(1 2.09)" textLength="5.9" lengthAdjust="spacingAndGlyphs" fill="#1f4fc4">K</text><text transform="translate(428.75 703) scale(1 2.09)" textLength="5.9" lengthAdjust="spacingAndGlyphs" fill="#a31fc0">Q</text><text transform="translate(434.95 703) scale(1 2.03)" textLength="5.9" lengthAdjust="spacingAndGlyphs" fill="#111111" font-family='"Liberation Mono", monospace'>I</text><text transform="translate(441.15 703) scale(1 2.03)" textLength="5.9" lengthAdjust="spacingAndGlyphs" fill="#a31fc0">N</text><text transform="translate(447.35 703) scale(1 2.03)" textLength="5.9" lengthAdjust="spacingAndGlyphs" fill="#a31fc0">N</text><text transform="translate(453.55 703) scale(1 3.56)" textLength="5.9" lengthAdjust="spacingAndGlyphs" fill="#111111">W</text><text transform="translate(459.75 703) scale(1 2.51)" textLength="5.9" lengthAdjust="spacingAndGlyphs" fill="#111111">F</text><text transform="translate(465.95 703) scale(1 2.03)" textLength="5.9" lengthAdjust="spacingAndGlyphs" fill="#111111" font-family='"Liberation Mono", monospace'>I</text><text transform="translate(472.15 703) scale(1 2.03)" textLength="5.9" lengthAdjust="spacingAndGlyphs" fill="#a31fc0">N</text><text transform="translate(478.35 703) scale(1 2.03)" textLength="5.9" lengthAdjust="spacingAndGlyphs" fill="#a31fc0">Q</text><text transform="translate(484.55 703) scale(1 2.03)" textLength="5.9" lengthAdjust="spacingAndGlyphs" fill="#1f4fc4">R</text><text transform="translate(490.75 703) scale(1 2.03)" textLength="5.9" lengthAdjust="spacingAndGlyphs" fill="#1f4fc4">K</text><text transform="translate(496.95 703) scale(1 2.03)" textLength="5.9" lengthAdjust="spacingAndGlyphs" fill="#1f4fc4">R</text><text transform="translate(503.15 703) scale(1 0.7)" textLength="5.9" lengthAdjust="spacingAndGlyphs" fill="#a31fc0">N</text><text transform="translate(503.15 698) scale(1 1.4)" textLength="5.9" lengthAdjust="spacingAndGlyphs" fill="#1f4fc4">H</text><text transform="translate(509.35 703) scale(1 3.56)" textLength="5.9" lengthAdjust="spacingAndGlyphs" fill="#111111">W</text></g>
<text x="275" y="691.1" font-size="7.6" text-anchor="end" fill="#222">2</text>
<text x="275" y="705.5" font-size="7.6" text-anchor="end" fill="#222">0</text>
<path d="M279.2 679.5V703M276 688.6H279.2M276 703H279.2" stroke="#222" stroke-width="0.7" fill="none"/>
<text transform="translate(264 696.8) rotate(-90)" font-size="7.6" text-anchor="middle" fill="#222">bits</text>
</g>
</svg>
</body></html>
